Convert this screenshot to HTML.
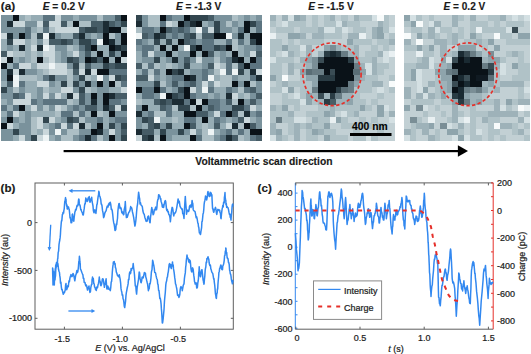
<!DOCTYPE html><html><head><meta charset="utf-8"><style>html,body{margin:0;padding:0;background:#fff;width:531px;height:354px;overflow:hidden}svg{display:block}text{font-family:"Liberation Sans",sans-serif;stroke:#222;stroke-width:0.22px}text[font-weight=bold]{stroke:#111;stroke-width:0.15px}</style></head><body>
<svg width="531" height="354" viewBox="0 0 531 354">
<rect width="531" height="354" fill="#fff"/>
<g shape-rendering="crispEdges">
<path fill="#7a929c" d="M1.1 15.0h6.2v6.2h-6.2zM7.1 15.0h6.2v6.2h-6.2zM60.9 15.0h6.2v6.2h-6.2zM66.8 15.0h6.2v6.2h-6.2zM78.8 15.0h6.2v6.2h-6.2zM84.8 15.0h6.2v6.2h-6.2zM90.7 15.0h6.2v6.2h-6.2zM102.7 15.0h6.2v6.2h-6.2zM108.7 15.0h6.2v6.2h-6.2zM1.1 21.0h6.2v6.2h-6.2zM25.0 21.0h6.2v6.2h-6.2zM31.0 21.0h6.2v6.2h-6.2zM1.1 27.0h6.2v6.2h-6.2zM7.1 27.0h6.2v6.2h-6.2zM13.1 27.0h6.2v6.2h-6.2zM19.0 27.0h6.2v6.2h-6.2zM13.1 33.0h6.2v6.2h-6.2zM54.9 33.0h6.2v6.2h-6.2zM84.8 33.0h6.2v6.2h-6.2zM96.7 33.0h6.2v6.2h-6.2zM114.6 33.0h6.2v6.2h-6.2zM37.0 39.0h6.2v6.2h-6.2zM72.8 39.0h6.2v6.2h-6.2zM114.6 39.0h6.2v6.2h-6.2zM7.1 45.0h6.2v6.2h-6.2zM54.9 45.0h6.2v6.2h-6.2zM60.9 45.0h6.2v6.2h-6.2zM60.9 50.9h6.2v6.2h-6.2zM78.8 50.9h6.2v6.2h-6.2zM114.6 50.9h6.2v6.2h-6.2zM19.0 56.9h6.2v6.2h-6.2zM60.9 56.9h6.2v6.2h-6.2zM78.8 56.9h6.2v6.2h-6.2zM66.8 62.9h6.2v6.2h-6.2zM90.7 62.9h6.2v6.2h-6.2zM96.7 62.9h6.2v6.2h-6.2zM1.1 68.9h6.2v6.2h-6.2zM25.0 68.9h6.2v6.2h-6.2zM31.0 68.9h6.2v6.2h-6.2zM1.1 74.9h6.2v6.2h-6.2zM54.9 74.9h6.2v6.2h-6.2zM60.9 74.9h6.2v6.2h-6.2zM72.8 74.9h6.2v6.2h-6.2zM102.7 74.9h6.2v6.2h-6.2zM48.9 80.9h6.2v6.2h-6.2zM78.8 80.9h6.2v6.2h-6.2zM90.7 80.9h6.2v6.2h-6.2zM102.7 80.9h6.2v6.2h-6.2zM7.1 86.9h6.2v6.2h-6.2zM19.0 86.9h6.2v6.2h-6.2zM37.0 86.9h6.2v6.2h-6.2zM72.8 86.9h6.2v6.2h-6.2zM96.7 86.9h6.2v6.2h-6.2zM102.7 86.9h6.2v6.2h-6.2zM1.1 92.9h6.2v6.2h-6.2zM7.1 92.9h6.2v6.2h-6.2zM37.0 92.9h6.2v6.2h-6.2zM48.9 92.9h6.2v6.2h-6.2zM84.8 92.9h6.2v6.2h-6.2zM96.7 92.9h6.2v6.2h-6.2zM7.1 98.9h6.2v6.2h-6.2zM37.0 98.9h6.2v6.2h-6.2zM84.8 98.9h6.2v6.2h-6.2zM96.7 98.9h6.2v6.2h-6.2zM120.6 98.9h6.2v6.2h-6.2zM37.0 104.9h6.2v6.2h-6.2zM48.9 104.9h6.2v6.2h-6.2zM66.8 104.9h6.2v6.2h-6.2zM78.8 104.9h6.2v6.2h-6.2zM96.7 104.9h6.2v6.2h-6.2zM25.0 110.8h6.2v6.2h-6.2zM114.6 110.8h6.2v6.2h-6.2zM120.6 110.8h6.2v6.2h-6.2zM1.1 116.8h6.2v6.2h-6.2zM13.1 116.8h6.2v6.2h-6.2zM25.0 116.8h6.2v6.2h-6.2zM60.9 116.8h6.2v6.2h-6.2zM84.8 116.8h6.2v6.2h-6.2zM90.7 116.8h6.2v6.2h-6.2zM108.7 116.8h6.2v6.2h-6.2zM19.0 122.8h6.2v6.2h-6.2zM25.0 122.8h6.2v6.2h-6.2zM48.9 122.8h6.2v6.2h-6.2zM90.7 122.8h6.2v6.2h-6.2zM114.6 122.8h6.2v6.2h-6.2zM1.1 128.8h6.2v6.2h-6.2zM7.1 128.8h6.2v6.2h-6.2zM19.0 128.8h6.2v6.2h-6.2zM25.0 128.8h6.2v6.2h-6.2zM48.9 128.8h6.2v6.2h-6.2zM60.9 128.8h6.2v6.2h-6.2zM78.8 128.8h6.2v6.2h-6.2zM84.8 128.8h6.2v6.2h-6.2zM102.7 128.8h6.2v6.2h-6.2zM114.6 128.8h6.2v6.2h-6.2zM1.1 134.8h6.2v6.2h-6.2zM7.1 134.8h6.2v6.2h-6.2zM25.0 134.8h6.2v6.2h-6.2zM54.9 134.8h6.2v6.2h-6.2zM72.8 134.8h6.2v6.2h-6.2zM102.7 134.8h6.2v6.2h-6.2zM114.6 134.8h6.2v6.2h-6.2z"/>
<path fill="#0a1218" d="M13.1 15.0h6.2v6.2h-6.2zM120.6 15.0h6.2v6.2h-6.2zM72.8 21.0h6.2v6.2h-6.2zM108.7 27.0h6.2v6.2h-6.2zM114.6 27.0h6.2v6.2h-6.2zM19.0 33.0h6.2v6.2h-6.2zM102.7 33.0h6.2v6.2h-6.2zM120.6 33.0h6.2v6.2h-6.2zM102.7 39.0h6.2v6.2h-6.2zM120.6 39.0h6.2v6.2h-6.2zM90.7 45.0h6.2v6.2h-6.2zM108.7 45.0h6.2v6.2h-6.2zM96.7 50.9h6.2v6.2h-6.2zM120.6 50.9h6.2v6.2h-6.2zM7.1 56.9h6.2v6.2h-6.2zM37.0 56.9h6.2v6.2h-6.2zM84.8 56.9h6.2v6.2h-6.2zM102.7 56.9h6.2v6.2h-6.2zM114.6 56.9h6.2v6.2h-6.2zM1.1 62.9h6.2v6.2h-6.2zM96.7 68.9h6.2v6.2h-6.2zM102.7 68.9h6.2v6.2h-6.2zM7.1 74.9h6.2v6.2h-6.2zM96.7 80.9h6.2v6.2h-6.2zM108.7 80.9h6.2v6.2h-6.2zM90.7 92.9h6.2v6.2h-6.2zM102.7 92.9h6.2v6.2h-6.2zM102.7 98.9h6.2v6.2h-6.2zM19.0 104.9h6.2v6.2h-6.2zM90.7 110.8h6.2v6.2h-6.2zM108.7 110.8h6.2v6.2h-6.2zM7.1 116.8h6.2v6.2h-6.2zM1.1 122.8h6.2v6.2h-6.2zM96.7 122.8h6.2v6.2h-6.2zM90.7 128.8h6.2v6.2h-6.2zM108.7 134.8h6.2v6.2h-6.2z"/>
<path fill="#96acb4" d="M19.0 15.0h6.2v6.2h-6.2zM31.0 15.0h6.2v6.2h-6.2zM37.0 15.0h6.2v6.2h-6.2zM72.8 15.0h6.2v6.2h-6.2zM31.0 27.0h6.2v6.2h-6.2zM60.9 33.0h6.2v6.2h-6.2zM66.8 33.0h6.2v6.2h-6.2zM90.7 33.0h6.2v6.2h-6.2zM1.1 39.0h6.2v6.2h-6.2zM25.0 39.0h6.2v6.2h-6.2zM1.1 45.0h6.2v6.2h-6.2zM13.1 45.0h6.2v6.2h-6.2zM25.0 45.0h6.2v6.2h-6.2zM72.8 45.0h6.2v6.2h-6.2zM96.7 45.0h6.2v6.2h-6.2zM102.7 45.0h6.2v6.2h-6.2zM25.0 50.9h6.2v6.2h-6.2zM37.0 50.9h6.2v6.2h-6.2zM54.9 50.9h6.2v6.2h-6.2zM66.8 50.9h6.2v6.2h-6.2zM90.7 50.9h6.2v6.2h-6.2zM102.7 50.9h6.2v6.2h-6.2zM13.1 56.9h6.2v6.2h-6.2zM25.0 56.9h6.2v6.2h-6.2zM54.9 56.9h6.2v6.2h-6.2zM108.7 56.9h6.2v6.2h-6.2zM7.1 62.9h6.2v6.2h-6.2zM31.0 62.9h6.2v6.2h-6.2zM37.0 68.9h6.2v6.2h-6.2zM37.0 74.9h6.2v6.2h-6.2zM90.7 74.9h6.2v6.2h-6.2zM1.1 80.9h6.2v6.2h-6.2zM25.0 80.9h6.2v6.2h-6.2zM31.0 80.9h6.2v6.2h-6.2zM54.9 80.9h6.2v6.2h-6.2zM25.0 86.9h6.2v6.2h-6.2zM31.0 86.9h6.2v6.2h-6.2zM48.9 86.9h6.2v6.2h-6.2zM54.9 86.9h6.2v6.2h-6.2zM90.7 86.9h6.2v6.2h-6.2zM108.7 86.9h6.2v6.2h-6.2zM114.6 86.9h6.2v6.2h-6.2zM31.0 92.9h6.2v6.2h-6.2zM60.9 92.9h6.2v6.2h-6.2zM1.1 98.9h6.2v6.2h-6.2zM72.8 98.9h6.2v6.2h-6.2zM7.1 104.9h6.2v6.2h-6.2zM25.0 104.9h6.2v6.2h-6.2zM1.1 110.8h6.2v6.2h-6.2zM19.0 110.8h6.2v6.2h-6.2zM31.0 110.8h6.2v6.2h-6.2zM37.0 110.8h6.2v6.2h-6.2zM42.9 110.8h6.2v6.2h-6.2zM48.9 110.8h6.2v6.2h-6.2zM84.8 110.8h6.2v6.2h-6.2zM102.7 110.8h6.2v6.2h-6.2zM19.0 116.8h6.2v6.2h-6.2zM54.9 116.8h6.2v6.2h-6.2zM102.7 116.8h6.2v6.2h-6.2zM13.1 122.8h6.2v6.2h-6.2zM42.9 122.8h6.2v6.2h-6.2zM102.7 122.8h6.2v6.2h-6.2zM37.0 128.8h6.2v6.2h-6.2zM13.1 134.8h6.2v6.2h-6.2zM48.9 134.8h6.2v6.2h-6.2z"/>
<path fill="#adbfc5" d="M25.0 15.0h6.2v6.2h-6.2zM96.7 15.0h6.2v6.2h-6.2zM66.8 21.0h6.2v6.2h-6.2zM78.8 21.0h6.2v6.2h-6.2zM84.8 21.0h6.2v6.2h-6.2zM37.0 27.0h6.2v6.2h-6.2zM48.9 27.0h6.2v6.2h-6.2zM120.6 27.0h6.2v6.2h-6.2zM31.0 33.0h6.2v6.2h-6.2zM108.7 33.0h6.2v6.2h-6.2zM31.0 39.0h6.2v6.2h-6.2zM66.8 45.0h6.2v6.2h-6.2zM13.1 50.9h6.2v6.2h-6.2zM19.0 50.9h6.2v6.2h-6.2zM31.0 50.9h6.2v6.2h-6.2zM31.0 56.9h6.2v6.2h-6.2zM42.9 56.9h6.2v6.2h-6.2zM78.8 62.9h6.2v6.2h-6.2zM42.9 68.9h6.2v6.2h-6.2zM66.8 68.9h6.2v6.2h-6.2zM19.0 74.9h6.2v6.2h-6.2zM25.0 74.9h6.2v6.2h-6.2zM31.0 74.9h6.2v6.2h-6.2zM66.8 74.9h6.2v6.2h-6.2zM84.8 74.9h6.2v6.2h-6.2zM66.8 80.9h6.2v6.2h-6.2zM114.6 80.9h6.2v6.2h-6.2zM13.1 86.9h6.2v6.2h-6.2zM42.9 86.9h6.2v6.2h-6.2zM84.8 86.9h6.2v6.2h-6.2zM66.8 98.9h6.2v6.2h-6.2zM42.9 104.9h6.2v6.2h-6.2zM60.9 104.9h6.2v6.2h-6.2zM54.9 110.8h6.2v6.2h-6.2zM72.8 110.8h6.2v6.2h-6.2zM96.7 110.8h6.2v6.2h-6.2zM31.0 116.8h6.2v6.2h-6.2zM78.8 116.8h6.2v6.2h-6.2zM31.0 122.8h6.2v6.2h-6.2zM84.8 122.8h6.2v6.2h-6.2zM31.0 128.8h6.2v6.2h-6.2zM66.8 128.8h6.2v6.2h-6.2zM72.8 128.8h6.2v6.2h-6.2zM60.9 134.8h6.2v6.2h-6.2zM66.8 134.8h6.2v6.2h-6.2zM96.7 134.8h6.2v6.2h-6.2z"/>
<path fill="#5c7480" d="M42.9 15.0h6.2v6.2h-6.2zM48.9 15.0h6.2v6.2h-6.2zM114.6 21.0h6.2v6.2h-6.2zM25.0 27.0h6.2v6.2h-6.2zM42.9 27.0h6.2v6.2h-6.2zM25.0 33.0h6.2v6.2h-6.2zM90.7 39.0h6.2v6.2h-6.2zM78.8 45.0h6.2v6.2h-6.2zM13.1 62.9h6.2v6.2h-6.2zM108.7 68.9h6.2v6.2h-6.2zM114.6 68.9h6.2v6.2h-6.2zM120.6 68.9h6.2v6.2h-6.2zM42.9 74.9h6.2v6.2h-6.2zM19.0 80.9h6.2v6.2h-6.2zM120.6 80.9h6.2v6.2h-6.2zM19.0 92.9h6.2v6.2h-6.2zM31.0 98.9h6.2v6.2h-6.2zM42.9 98.9h6.2v6.2h-6.2zM48.9 98.9h6.2v6.2h-6.2zM54.9 98.9h6.2v6.2h-6.2zM60.9 98.9h6.2v6.2h-6.2zM108.7 98.9h6.2v6.2h-6.2zM114.6 98.9h6.2v6.2h-6.2zM1.1 104.9h6.2v6.2h-6.2zM13.1 104.9h6.2v6.2h-6.2zM72.8 104.9h6.2v6.2h-6.2zM7.1 110.8h6.2v6.2h-6.2zM60.9 110.8h6.2v6.2h-6.2zM66.8 110.8h6.2v6.2h-6.2zM78.8 110.8h6.2v6.2h-6.2zM96.7 116.8h6.2v6.2h-6.2zM114.6 116.8h6.2v6.2h-6.2zM120.6 116.8h6.2v6.2h-6.2zM54.9 122.8h6.2v6.2h-6.2zM66.8 122.8h6.2v6.2h-6.2zM78.8 134.8h6.2v6.2h-6.2zM90.7 134.8h6.2v6.2h-6.2z"/>
<path fill="#cad7db" d="M54.9 15.0h6.2v6.2h-6.2zM13.1 21.0h6.2v6.2h-6.2zM19.0 21.0h6.2v6.2h-6.2zM37.0 21.0h6.2v6.2h-6.2zM48.9 21.0h6.2v6.2h-6.2zM54.9 21.0h6.2v6.2h-6.2zM54.9 27.0h6.2v6.2h-6.2zM60.9 27.0h6.2v6.2h-6.2zM66.8 27.0h6.2v6.2h-6.2zM72.8 27.0h6.2v6.2h-6.2zM1.1 33.0h6.2v6.2h-6.2zM13.1 39.0h6.2v6.2h-6.2zM19.0 39.0h6.2v6.2h-6.2zM42.9 39.0h6.2v6.2h-6.2zM31.0 45.0h6.2v6.2h-6.2zM48.9 45.0h6.2v6.2h-6.2zM7.1 50.9h6.2v6.2h-6.2zM42.9 50.9h6.2v6.2h-6.2zM48.9 50.9h6.2v6.2h-6.2zM72.8 50.9h6.2v6.2h-6.2zM1.1 56.9h6.2v6.2h-6.2zM48.9 56.9h6.2v6.2h-6.2zM120.6 56.9h6.2v6.2h-6.2zM19.0 62.9h6.2v6.2h-6.2zM25.0 62.9h6.2v6.2h-6.2zM37.0 62.9h6.2v6.2h-6.2zM42.9 62.9h6.2v6.2h-6.2zM54.9 62.9h6.2v6.2h-6.2zM60.9 62.9h6.2v6.2h-6.2zM13.1 68.9h6.2v6.2h-6.2zM48.9 68.9h6.2v6.2h-6.2zM54.9 68.9h6.2v6.2h-6.2zM60.9 68.9h6.2v6.2h-6.2zM78.8 68.9h6.2v6.2h-6.2zM90.7 68.9h6.2v6.2h-6.2zM108.7 74.9h6.2v6.2h-6.2zM37.0 80.9h6.2v6.2h-6.2zM42.9 80.9h6.2v6.2h-6.2zM60.9 86.9h6.2v6.2h-6.2zM66.8 86.9h6.2v6.2h-6.2zM120.6 86.9h6.2v6.2h-6.2zM25.0 92.9h6.2v6.2h-6.2zM42.9 92.9h6.2v6.2h-6.2zM54.9 92.9h6.2v6.2h-6.2zM72.8 92.9h6.2v6.2h-6.2zM13.1 98.9h6.2v6.2h-6.2zM19.0 98.9h6.2v6.2h-6.2zM25.0 98.9h6.2v6.2h-6.2zM31.0 104.9h6.2v6.2h-6.2zM54.9 104.9h6.2v6.2h-6.2zM114.6 104.9h6.2v6.2h-6.2zM13.1 110.8h6.2v6.2h-6.2zM37.0 116.8h6.2v6.2h-6.2zM48.9 116.8h6.2v6.2h-6.2zM7.1 122.8h6.2v6.2h-6.2zM37.0 122.8h6.2v6.2h-6.2zM60.9 122.8h6.2v6.2h-6.2zM72.8 122.8h6.2v6.2h-6.2zM42.9 128.8h6.2v6.2h-6.2zM108.7 128.8h6.2v6.2h-6.2zM19.0 134.8h6.2v6.2h-6.2zM37.0 134.8h6.2v6.2h-6.2z"/>
<path fill="#465c66" d="M114.6 15.0h6.2v6.2h-6.2zM42.9 21.0h6.2v6.2h-6.2zM60.9 21.0h6.2v6.2h-6.2zM90.7 21.0h6.2v6.2h-6.2zM96.7 21.0h6.2v6.2h-6.2zM108.7 21.0h6.2v6.2h-6.2zM78.8 27.0h6.2v6.2h-6.2zM96.7 27.0h6.2v6.2h-6.2zM72.8 33.0h6.2v6.2h-6.2zM48.9 39.0h6.2v6.2h-6.2zM54.9 39.0h6.2v6.2h-6.2zM66.8 39.0h6.2v6.2h-6.2zM1.1 50.9h6.2v6.2h-6.2zM84.8 50.9h6.2v6.2h-6.2zM72.8 56.9h6.2v6.2h-6.2zM96.7 56.9h6.2v6.2h-6.2zM84.8 62.9h6.2v6.2h-6.2zM108.7 62.9h6.2v6.2h-6.2zM72.8 68.9h6.2v6.2h-6.2zM120.6 74.9h6.2v6.2h-6.2zM7.1 80.9h6.2v6.2h-6.2zM13.1 92.9h6.2v6.2h-6.2zM78.8 92.9h6.2v6.2h-6.2zM114.6 92.9h6.2v6.2h-6.2zM120.6 92.9h6.2v6.2h-6.2zM78.8 98.9h6.2v6.2h-6.2zM84.8 104.9h6.2v6.2h-6.2zM90.7 104.9h6.2v6.2h-6.2zM108.7 104.9h6.2v6.2h-6.2zM72.8 116.8h6.2v6.2h-6.2zM120.6 128.8h6.2v6.2h-6.2z"/>
<path fill="#1c2c34" d="M7.1 21.0h6.2v6.2h-6.2zM102.7 21.0h6.2v6.2h-6.2zM102.7 27.0h6.2v6.2h-6.2zM7.1 33.0h6.2v6.2h-6.2zM48.9 33.0h6.2v6.2h-6.2zM78.8 33.0h6.2v6.2h-6.2zM108.7 39.0h6.2v6.2h-6.2zM19.0 45.0h6.2v6.2h-6.2zM37.0 45.0h6.2v6.2h-6.2zM114.6 45.0h6.2v6.2h-6.2zM90.7 56.9h6.2v6.2h-6.2zM7.1 68.9h6.2v6.2h-6.2zM19.0 68.9h6.2v6.2h-6.2zM84.8 68.9h6.2v6.2h-6.2zM84.8 80.9h6.2v6.2h-6.2zM66.8 92.9h6.2v6.2h-6.2zM108.7 92.9h6.2v6.2h-6.2zM90.7 98.9h6.2v6.2h-6.2zM102.7 104.9h6.2v6.2h-6.2zM78.8 122.8h6.2v6.2h-6.2zM96.7 128.8h6.2v6.2h-6.2zM84.8 134.8h6.2v6.2h-6.2z"/>
<path fill="#32464f" d="M120.6 21.0h6.2v6.2h-6.2zM84.8 27.0h6.2v6.2h-6.2zM90.7 27.0h6.2v6.2h-6.2zM37.0 33.0h6.2v6.2h-6.2zM7.1 39.0h6.2v6.2h-6.2zM60.9 39.0h6.2v6.2h-6.2zM78.8 39.0h6.2v6.2h-6.2zM84.8 39.0h6.2v6.2h-6.2zM84.8 45.0h6.2v6.2h-6.2zM120.6 45.0h6.2v6.2h-6.2zM108.7 50.9h6.2v6.2h-6.2zM66.8 56.9h6.2v6.2h-6.2zM72.8 62.9h6.2v6.2h-6.2zM102.7 62.9h6.2v6.2h-6.2zM114.6 62.9h6.2v6.2h-6.2zM120.6 62.9h6.2v6.2h-6.2zM48.9 74.9h6.2v6.2h-6.2zM78.8 74.9h6.2v6.2h-6.2zM114.6 74.9h6.2v6.2h-6.2zM60.9 80.9h6.2v6.2h-6.2zM72.8 80.9h6.2v6.2h-6.2zM1.1 86.9h6.2v6.2h-6.2zM78.8 86.9h6.2v6.2h-6.2zM120.6 104.9h6.2v6.2h-6.2zM42.9 116.8h6.2v6.2h-6.2zM66.8 116.8h6.2v6.2h-6.2zM108.7 122.8h6.2v6.2h-6.2zM120.6 122.8h6.2v6.2h-6.2zM13.1 128.8h6.2v6.2h-6.2zM31.0 134.8h6.2v6.2h-6.2zM120.6 134.8h6.2v6.2h-6.2z"/>
<path fill="#eef4f5" d="M42.9 33.0h6.2v6.2h-6.2zM96.7 39.0h6.2v6.2h-6.2zM42.9 45.0h6.2v6.2h-6.2zM48.9 62.9h6.2v6.2h-6.2zM13.1 74.9h6.2v6.2h-6.2zM96.7 74.9h6.2v6.2h-6.2zM13.1 80.9h6.2v6.2h-6.2zM54.9 128.8h6.2v6.2h-6.2zM42.9 134.8h6.2v6.2h-6.2z"/>
</g>
<g shape-rendering="crispEdges">
<path fill="#32464f" d="M136.0 15.0h6.2v6.2h-6.2zM189.8 15.0h6.2v6.2h-6.2zM195.8 15.0h6.2v6.2h-6.2zM201.7 15.0h6.2v6.2h-6.2zM213.7 21.0h6.2v6.2h-6.2zM249.5 21.0h6.2v6.2h-6.2zM213.7 27.0h6.2v6.2h-6.2zM159.9 33.0h6.2v6.2h-6.2zM189.8 33.0h6.2v6.2h-6.2zM153.9 39.0h6.2v6.2h-6.2zM165.9 39.0h6.2v6.2h-6.2zM249.5 39.0h6.2v6.2h-6.2zM189.8 45.0h6.2v6.2h-6.2zM213.7 45.0h6.2v6.2h-6.2zM153.9 56.9h6.2v6.2h-6.2zM183.8 62.9h6.2v6.2h-6.2zM171.9 68.9h6.2v6.2h-6.2zM237.6 68.9h6.2v6.2h-6.2zM153.9 80.9h6.2v6.2h-6.2zM177.8 86.9h6.2v6.2h-6.2zM171.9 92.9h6.2v6.2h-6.2zM159.9 98.9h6.2v6.2h-6.2zM177.8 104.9h6.2v6.2h-6.2zM183.8 104.9h6.2v6.2h-6.2zM231.6 104.9h6.2v6.2h-6.2zM237.6 104.9h6.2v6.2h-6.2zM142.0 116.8h6.2v6.2h-6.2zM153.9 122.8h6.2v6.2h-6.2zM165.9 122.8h6.2v6.2h-6.2zM159.9 128.8h6.2v6.2h-6.2zM177.8 128.8h6.2v6.2h-6.2zM142.0 134.8h6.2v6.2h-6.2z"/>
<path fill="#7a929c" d="M142.0 15.0h6.2v6.2h-6.2zM171.9 15.0h6.2v6.2h-6.2zM177.8 15.0h6.2v6.2h-6.2zM213.7 15.0h6.2v6.2h-6.2zM219.7 15.0h6.2v6.2h-6.2zM225.6 15.0h6.2v6.2h-6.2zM243.6 15.0h6.2v6.2h-6.2zM255.5 15.0h6.2v6.2h-6.2zM142.0 21.0h6.2v6.2h-6.2zM207.7 21.0h6.2v6.2h-6.2zM219.7 21.0h6.2v6.2h-6.2zM231.6 21.0h6.2v6.2h-6.2zM153.9 27.0h6.2v6.2h-6.2zM219.7 27.0h6.2v6.2h-6.2zM225.6 27.0h6.2v6.2h-6.2zM165.9 33.0h6.2v6.2h-6.2zM177.8 33.0h6.2v6.2h-6.2zM231.6 33.0h6.2v6.2h-6.2zM142.0 39.0h6.2v6.2h-6.2zM195.8 39.0h6.2v6.2h-6.2zM136.0 45.0h6.2v6.2h-6.2zM243.6 45.0h6.2v6.2h-6.2zM249.5 45.0h6.2v6.2h-6.2zM153.9 50.9h6.2v6.2h-6.2zM159.9 50.9h6.2v6.2h-6.2zM177.8 50.9h6.2v6.2h-6.2zM183.8 50.9h6.2v6.2h-6.2zM219.7 50.9h6.2v6.2h-6.2zM243.6 50.9h6.2v6.2h-6.2zM142.0 56.9h6.2v6.2h-6.2zM148.0 56.9h6.2v6.2h-6.2zM165.9 56.9h6.2v6.2h-6.2zM177.8 56.9h6.2v6.2h-6.2zM189.8 56.9h6.2v6.2h-6.2zM201.7 56.9h6.2v6.2h-6.2zM207.7 56.9h6.2v6.2h-6.2zM219.7 56.9h6.2v6.2h-6.2zM177.8 62.9h6.2v6.2h-6.2zM201.7 62.9h6.2v6.2h-6.2zM189.8 68.9h6.2v6.2h-6.2zM195.8 68.9h6.2v6.2h-6.2zM207.7 68.9h6.2v6.2h-6.2zM153.9 74.9h6.2v6.2h-6.2zM165.9 74.9h6.2v6.2h-6.2zM195.8 74.9h6.2v6.2h-6.2zM231.6 74.9h6.2v6.2h-6.2zM136.0 80.9h6.2v6.2h-6.2zM142.0 80.9h6.2v6.2h-6.2zM148.0 80.9h6.2v6.2h-6.2zM165.9 80.9h6.2v6.2h-6.2zM177.8 80.9h6.2v6.2h-6.2zM195.8 80.9h6.2v6.2h-6.2zM207.7 80.9h6.2v6.2h-6.2zM237.6 80.9h6.2v6.2h-6.2zM255.5 80.9h6.2v6.2h-6.2zM171.9 86.9h6.2v6.2h-6.2zM195.8 86.9h6.2v6.2h-6.2zM231.6 86.9h6.2v6.2h-6.2zM255.5 86.9h6.2v6.2h-6.2zM153.9 92.9h6.2v6.2h-6.2zM195.8 92.9h6.2v6.2h-6.2zM201.7 92.9h6.2v6.2h-6.2zM213.7 92.9h6.2v6.2h-6.2zM249.5 92.9h6.2v6.2h-6.2zM219.7 98.9h6.2v6.2h-6.2zM243.6 98.9h6.2v6.2h-6.2zM255.5 98.9h6.2v6.2h-6.2zM136.0 104.9h6.2v6.2h-6.2zM201.7 104.9h6.2v6.2h-6.2zM219.7 104.9h6.2v6.2h-6.2zM225.6 104.9h6.2v6.2h-6.2zM142.0 110.8h6.2v6.2h-6.2zM207.7 110.8h6.2v6.2h-6.2zM249.5 110.8h6.2v6.2h-6.2zM136.0 116.8h6.2v6.2h-6.2zM219.7 116.8h6.2v6.2h-6.2zM231.6 116.8h6.2v6.2h-6.2zM255.5 116.8h6.2v6.2h-6.2zM136.0 122.8h6.2v6.2h-6.2zM159.9 122.8h6.2v6.2h-6.2zM255.5 122.8h6.2v6.2h-6.2zM165.9 128.8h6.2v6.2h-6.2zM171.9 128.8h6.2v6.2h-6.2zM183.8 128.8h6.2v6.2h-6.2zM195.8 128.8h6.2v6.2h-6.2zM219.7 128.8h6.2v6.2h-6.2zM165.9 134.8h6.2v6.2h-6.2zM213.7 134.8h6.2v6.2h-6.2z"/>
<path fill="#adbfc5" d="M148.0 15.0h6.2v6.2h-6.2zM153.9 15.0h6.2v6.2h-6.2zM231.6 15.0h6.2v6.2h-6.2zM148.0 21.0h6.2v6.2h-6.2zM153.9 21.0h6.2v6.2h-6.2zM171.9 21.0h6.2v6.2h-6.2zM225.6 21.0h6.2v6.2h-6.2zM136.0 27.0h6.2v6.2h-6.2zM195.8 33.0h6.2v6.2h-6.2zM231.6 39.0h6.2v6.2h-6.2zM231.6 45.0h6.2v6.2h-6.2zM213.7 56.9h6.2v6.2h-6.2zM142.0 62.9h6.2v6.2h-6.2zM153.9 62.9h6.2v6.2h-6.2zM165.9 62.9h6.2v6.2h-6.2zM219.7 62.9h6.2v6.2h-6.2zM231.6 62.9h6.2v6.2h-6.2zM148.0 68.9h6.2v6.2h-6.2zM213.7 68.9h6.2v6.2h-6.2zM219.7 74.9h6.2v6.2h-6.2zM225.6 74.9h6.2v6.2h-6.2zM159.9 80.9h6.2v6.2h-6.2zM219.7 80.9h6.2v6.2h-6.2zM225.6 80.9h6.2v6.2h-6.2zM249.5 80.9h6.2v6.2h-6.2zM237.6 86.9h6.2v6.2h-6.2zM243.6 92.9h6.2v6.2h-6.2zM136.0 98.9h6.2v6.2h-6.2zM231.6 98.9h6.2v6.2h-6.2zM171.9 104.9h6.2v6.2h-6.2zM189.8 104.9h6.2v6.2h-6.2zM153.9 110.8h6.2v6.2h-6.2zM159.9 110.8h6.2v6.2h-6.2zM237.6 110.8h6.2v6.2h-6.2zM171.9 116.8h6.2v6.2h-6.2zM201.7 122.8h6.2v6.2h-6.2zM237.6 122.8h6.2v6.2h-6.2zM201.7 128.8h6.2v6.2h-6.2zM153.9 134.8h6.2v6.2h-6.2zM201.7 134.8h6.2v6.2h-6.2zM207.7 134.8h6.2v6.2h-6.2zM237.6 134.8h6.2v6.2h-6.2z"/>
<path fill="#0a1218" d="M159.9 15.0h6.2v6.2h-6.2zM183.8 15.0h6.2v6.2h-6.2zM177.8 21.0h6.2v6.2h-6.2zM195.8 21.0h6.2v6.2h-6.2zM243.6 21.0h6.2v6.2h-6.2zM159.9 27.0h6.2v6.2h-6.2zM243.6 27.0h6.2v6.2h-6.2zM213.7 33.0h6.2v6.2h-6.2zM219.7 33.0h6.2v6.2h-6.2zM249.5 33.0h6.2v6.2h-6.2zM255.5 33.0h6.2v6.2h-6.2zM177.8 39.0h6.2v6.2h-6.2zM255.5 39.0h6.2v6.2h-6.2zM159.9 45.0h6.2v6.2h-6.2zM171.9 45.0h6.2v6.2h-6.2zM195.8 45.0h6.2v6.2h-6.2zM225.6 45.0h6.2v6.2h-6.2zM165.9 50.9h6.2v6.2h-6.2zM189.8 50.9h6.2v6.2h-6.2zM201.7 50.9h6.2v6.2h-6.2zM231.6 50.9h6.2v6.2h-6.2zM237.6 56.9h6.2v6.2h-6.2zM249.5 56.9h6.2v6.2h-6.2zM243.6 62.9h6.2v6.2h-6.2zM165.9 68.9h6.2v6.2h-6.2zM183.8 74.9h6.2v6.2h-6.2zM231.6 80.9h6.2v6.2h-6.2zM243.6 80.9h6.2v6.2h-6.2zM136.0 86.9h6.2v6.2h-6.2zM153.9 86.9h6.2v6.2h-6.2zM183.8 86.9h6.2v6.2h-6.2zM165.9 92.9h6.2v6.2h-6.2zM183.8 92.9h6.2v6.2h-6.2zM189.8 98.9h6.2v6.2h-6.2zM201.7 98.9h6.2v6.2h-6.2zM237.6 98.9h6.2v6.2h-6.2zM142.0 104.9h6.2v6.2h-6.2zM195.8 104.9h6.2v6.2h-6.2zM183.8 110.8h6.2v6.2h-6.2zM189.8 110.8h6.2v6.2h-6.2zM225.6 110.8h6.2v6.2h-6.2zM201.7 116.8h6.2v6.2h-6.2zM183.8 122.8h6.2v6.2h-6.2zM243.6 122.8h6.2v6.2h-6.2zM249.5 128.8h6.2v6.2h-6.2zM255.5 128.8h6.2v6.2h-6.2zM159.9 134.8h6.2v6.2h-6.2zM189.8 134.8h6.2v6.2h-6.2z"/>
<path fill="#5c7480" d="M165.9 15.0h6.2v6.2h-6.2zM159.9 21.0h6.2v6.2h-6.2zM255.5 21.0h6.2v6.2h-6.2zM142.0 27.0h6.2v6.2h-6.2zM148.0 27.0h6.2v6.2h-6.2zM171.9 27.0h6.2v6.2h-6.2zM183.8 27.0h6.2v6.2h-6.2zM201.7 27.0h6.2v6.2h-6.2zM237.6 27.0h6.2v6.2h-6.2zM255.5 27.0h6.2v6.2h-6.2zM148.0 33.0h6.2v6.2h-6.2zM171.9 33.0h6.2v6.2h-6.2zM136.0 39.0h6.2v6.2h-6.2zM189.8 39.0h6.2v6.2h-6.2zM201.7 39.0h6.2v6.2h-6.2zM207.7 39.0h6.2v6.2h-6.2zM225.6 39.0h6.2v6.2h-6.2zM237.6 39.0h6.2v6.2h-6.2zM142.0 45.0h6.2v6.2h-6.2zM148.0 45.0h6.2v6.2h-6.2zM201.7 45.0h6.2v6.2h-6.2zM207.7 45.0h6.2v6.2h-6.2zM255.5 45.0h6.2v6.2h-6.2zM142.0 50.9h6.2v6.2h-6.2zM225.6 56.9h6.2v6.2h-6.2zM255.5 56.9h6.2v6.2h-6.2zM148.0 62.9h6.2v6.2h-6.2zM225.6 62.9h6.2v6.2h-6.2zM249.5 62.9h6.2v6.2h-6.2zM255.5 62.9h6.2v6.2h-6.2zM142.0 68.9h6.2v6.2h-6.2zM153.9 68.9h6.2v6.2h-6.2zM201.7 68.9h6.2v6.2h-6.2zM225.6 68.9h6.2v6.2h-6.2zM171.9 74.9h6.2v6.2h-6.2zM177.8 74.9h6.2v6.2h-6.2zM201.7 74.9h6.2v6.2h-6.2zM249.5 74.9h6.2v6.2h-6.2zM183.8 80.9h6.2v6.2h-6.2zM142.0 86.9h6.2v6.2h-6.2zM148.0 86.9h6.2v6.2h-6.2zM159.9 86.9h6.2v6.2h-6.2zM207.7 86.9h6.2v6.2h-6.2zM225.6 86.9h6.2v6.2h-6.2zM243.6 86.9h6.2v6.2h-6.2zM142.0 92.9h6.2v6.2h-6.2zM148.0 92.9h6.2v6.2h-6.2zM189.8 92.9h6.2v6.2h-6.2zM183.8 98.9h6.2v6.2h-6.2zM207.7 98.9h6.2v6.2h-6.2zM213.7 98.9h6.2v6.2h-6.2zM165.9 104.9h6.2v6.2h-6.2zM213.7 104.9h6.2v6.2h-6.2zM243.6 104.9h6.2v6.2h-6.2zM148.0 110.8h6.2v6.2h-6.2zM165.9 110.8h6.2v6.2h-6.2zM219.7 110.8h6.2v6.2h-6.2zM255.5 110.8h6.2v6.2h-6.2zM183.8 116.8h6.2v6.2h-6.2zM189.8 116.8h6.2v6.2h-6.2zM213.7 116.8h6.2v6.2h-6.2zM225.6 128.8h6.2v6.2h-6.2zM237.6 128.8h6.2v6.2h-6.2zM195.8 134.8h6.2v6.2h-6.2zM219.7 134.8h6.2v6.2h-6.2zM249.5 134.8h6.2v6.2h-6.2z"/>
<path fill="#465c66" d="M207.7 15.0h6.2v6.2h-6.2zM183.8 21.0h6.2v6.2h-6.2zM165.9 27.0h6.2v6.2h-6.2zM177.8 27.0h6.2v6.2h-6.2zM142.0 33.0h6.2v6.2h-6.2zM183.8 33.0h6.2v6.2h-6.2zM201.7 33.0h6.2v6.2h-6.2zM207.7 33.0h6.2v6.2h-6.2zM183.8 39.0h6.2v6.2h-6.2zM219.7 45.0h6.2v6.2h-6.2zM207.7 50.9h6.2v6.2h-6.2zM255.5 50.9h6.2v6.2h-6.2zM183.8 56.9h6.2v6.2h-6.2zM136.0 62.9h6.2v6.2h-6.2zM207.7 62.9h6.2v6.2h-6.2zM237.6 62.9h6.2v6.2h-6.2zM136.0 74.9h6.2v6.2h-6.2zM142.0 74.9h6.2v6.2h-6.2zM171.9 80.9h6.2v6.2h-6.2zM189.8 80.9h6.2v6.2h-6.2zM249.5 86.9h6.2v6.2h-6.2zM177.8 92.9h6.2v6.2h-6.2zM255.5 92.9h6.2v6.2h-6.2zM153.9 98.9h6.2v6.2h-6.2zM165.9 98.9h6.2v6.2h-6.2zM225.6 98.9h6.2v6.2h-6.2zM249.5 98.9h6.2v6.2h-6.2zM159.9 104.9h6.2v6.2h-6.2zM207.7 104.9h6.2v6.2h-6.2zM195.8 110.8h6.2v6.2h-6.2zM201.7 110.8h6.2v6.2h-6.2zM231.6 110.8h6.2v6.2h-6.2zM148.0 116.8h6.2v6.2h-6.2zM237.6 116.8h6.2v6.2h-6.2zM148.0 122.8h6.2v6.2h-6.2zM189.8 122.8h6.2v6.2h-6.2zM213.7 122.8h6.2v6.2h-6.2zM249.5 122.8h6.2v6.2h-6.2zM142.0 128.8h6.2v6.2h-6.2zM148.0 128.8h6.2v6.2h-6.2zM231.6 134.8h6.2v6.2h-6.2zM255.5 134.8h6.2v6.2h-6.2z"/>
<path fill="#96acb4" d="M237.6 15.0h6.2v6.2h-6.2zM249.5 15.0h6.2v6.2h-6.2zM201.7 21.0h6.2v6.2h-6.2zM237.6 21.0h6.2v6.2h-6.2zM189.8 27.0h6.2v6.2h-6.2zM231.6 27.0h6.2v6.2h-6.2zM249.5 27.0h6.2v6.2h-6.2zM243.6 33.0h6.2v6.2h-6.2zM148.0 39.0h6.2v6.2h-6.2zM159.9 39.0h6.2v6.2h-6.2zM171.9 39.0h6.2v6.2h-6.2zM213.7 39.0h6.2v6.2h-6.2zM219.7 39.0h6.2v6.2h-6.2zM243.6 39.0h6.2v6.2h-6.2zM153.9 45.0h6.2v6.2h-6.2zM165.9 45.0h6.2v6.2h-6.2zM177.8 45.0h6.2v6.2h-6.2zM237.6 45.0h6.2v6.2h-6.2zM136.0 50.9h6.2v6.2h-6.2zM171.9 50.9h6.2v6.2h-6.2zM195.8 50.9h6.2v6.2h-6.2zM213.7 50.9h6.2v6.2h-6.2zM225.6 50.9h6.2v6.2h-6.2zM237.6 50.9h6.2v6.2h-6.2zM136.0 56.9h6.2v6.2h-6.2zM159.9 56.9h6.2v6.2h-6.2zM243.6 56.9h6.2v6.2h-6.2zM159.9 62.9h6.2v6.2h-6.2zM171.9 62.9h6.2v6.2h-6.2zM189.8 62.9h6.2v6.2h-6.2zM195.8 62.9h6.2v6.2h-6.2zM136.0 68.9h6.2v6.2h-6.2zM159.9 68.9h6.2v6.2h-6.2zM183.8 68.9h6.2v6.2h-6.2zM243.6 68.9h6.2v6.2h-6.2zM159.9 74.9h6.2v6.2h-6.2zM213.7 74.9h6.2v6.2h-6.2zM237.6 74.9h6.2v6.2h-6.2zM243.6 74.9h6.2v6.2h-6.2zM165.9 86.9h6.2v6.2h-6.2zM213.7 86.9h6.2v6.2h-6.2zM219.7 86.9h6.2v6.2h-6.2zM136.0 92.9h6.2v6.2h-6.2zM207.7 92.9h6.2v6.2h-6.2zM219.7 92.9h6.2v6.2h-6.2zM237.6 92.9h6.2v6.2h-6.2zM142.0 98.9h6.2v6.2h-6.2zM148.0 98.9h6.2v6.2h-6.2zM148.0 104.9h6.2v6.2h-6.2zM153.9 104.9h6.2v6.2h-6.2zM255.5 104.9h6.2v6.2h-6.2zM171.9 110.8h6.2v6.2h-6.2zM177.8 110.8h6.2v6.2h-6.2zM159.9 116.8h6.2v6.2h-6.2zM165.9 116.8h6.2v6.2h-6.2zM177.8 116.8h6.2v6.2h-6.2zM195.8 116.8h6.2v6.2h-6.2zM207.7 116.8h6.2v6.2h-6.2zM225.6 116.8h6.2v6.2h-6.2zM249.5 116.8h6.2v6.2h-6.2zM142.0 122.8h6.2v6.2h-6.2zM171.9 122.8h6.2v6.2h-6.2zM177.8 122.8h6.2v6.2h-6.2zM195.8 122.8h6.2v6.2h-6.2zM207.7 122.8h6.2v6.2h-6.2zM219.7 122.8h6.2v6.2h-6.2zM153.9 128.8h6.2v6.2h-6.2zM213.7 128.8h6.2v6.2h-6.2zM231.6 128.8h6.2v6.2h-6.2zM243.6 128.8h6.2v6.2h-6.2zM171.9 134.8h6.2v6.2h-6.2zM177.8 134.8h6.2v6.2h-6.2zM183.8 134.8h6.2v6.2h-6.2zM243.6 134.8h6.2v6.2h-6.2z"/>
<path fill="#1c2c34" d="M136.0 21.0h6.2v6.2h-6.2zM189.8 21.0h6.2v6.2h-6.2zM153.9 33.0h6.2v6.2h-6.2zM237.6 33.0h6.2v6.2h-6.2zM171.9 56.9h6.2v6.2h-6.2zM231.6 56.9h6.2v6.2h-6.2zM177.8 68.9h6.2v6.2h-6.2zM249.5 68.9h6.2v6.2h-6.2zM189.8 74.9h6.2v6.2h-6.2zM255.5 74.9h6.2v6.2h-6.2zM225.6 92.9h6.2v6.2h-6.2zM171.9 98.9h6.2v6.2h-6.2zM177.8 98.9h6.2v6.2h-6.2zM136.0 110.8h6.2v6.2h-6.2zM243.6 110.8h6.2v6.2h-6.2zM231.6 122.8h6.2v6.2h-6.2zM136.0 128.8h6.2v6.2h-6.2zM148.0 134.8h6.2v6.2h-6.2zM225.6 134.8h6.2v6.2h-6.2z"/>
<path fill="#cad7db" d="M165.9 21.0h6.2v6.2h-6.2zM207.7 27.0h6.2v6.2h-6.2zM148.0 50.9h6.2v6.2h-6.2zM249.5 50.9h6.2v6.2h-6.2zM195.8 56.9h6.2v6.2h-6.2zM213.7 62.9h6.2v6.2h-6.2zM255.5 68.9h6.2v6.2h-6.2zM148.0 74.9h6.2v6.2h-6.2zM201.7 80.9h6.2v6.2h-6.2zM213.7 80.9h6.2v6.2h-6.2zM189.8 86.9h6.2v6.2h-6.2zM231.6 92.9h6.2v6.2h-6.2zM195.8 98.9h6.2v6.2h-6.2zM249.5 104.9h6.2v6.2h-6.2zM213.7 110.8h6.2v6.2h-6.2zM243.6 116.8h6.2v6.2h-6.2zM225.6 122.8h6.2v6.2h-6.2zM189.8 128.8h6.2v6.2h-6.2zM136.0 134.8h6.2v6.2h-6.2z"/>
<path fill="#eef4f5" d="M195.8 27.0h6.2v6.2h-6.2zM136.0 33.0h6.2v6.2h-6.2zM225.6 33.0h6.2v6.2h-6.2zM183.8 45.0h6.2v6.2h-6.2zM219.7 68.9h6.2v6.2h-6.2zM231.6 68.9h6.2v6.2h-6.2zM207.7 74.9h6.2v6.2h-6.2zM201.7 86.9h6.2v6.2h-6.2zM159.9 92.9h6.2v6.2h-6.2zM153.9 116.8h6.2v6.2h-6.2zM207.7 128.8h6.2v6.2h-6.2z"/>
</g>
<g shape-rendering="crispEdges">
<path fill="#9eb2b9" d="M269.7 15.0h6.2v6.2h-6.2zM281.7 15.0h6.2v6.2h-6.2zM299.6 15.0h6.2v6.2h-6.2zM329.5 15.0h6.2v6.2h-6.2zM353.4 15.0h6.2v6.2h-6.2zM341.4 21.0h6.2v6.2h-6.2zM377.3 21.0h6.2v6.2h-6.2zM317.5 27.0h6.2v6.2h-6.2zM371.3 27.0h6.2v6.2h-6.2zM299.6 33.0h6.2v6.2h-6.2zM311.5 33.0h6.2v6.2h-6.2zM317.5 33.0h6.2v6.2h-6.2zM347.4 33.0h6.2v6.2h-6.2zM353.4 33.0h6.2v6.2h-6.2zM371.3 33.0h6.2v6.2h-6.2zM389.2 39.0h6.2v6.2h-6.2zM305.6 45.0h6.2v6.2h-6.2zM335.4 45.0h6.2v6.2h-6.2zM353.4 45.0h6.2v6.2h-6.2zM287.6 50.9h6.2v6.2h-6.2zM305.6 50.9h6.2v6.2h-6.2zM317.5 50.9h6.2v6.2h-6.2zM347.4 50.9h6.2v6.2h-6.2zM353.4 50.9h6.2v6.2h-6.2zM377.3 50.9h6.2v6.2h-6.2zM299.6 56.9h6.2v6.2h-6.2zM371.3 56.9h6.2v6.2h-6.2zM287.6 62.9h6.2v6.2h-6.2zM305.6 62.9h6.2v6.2h-6.2zM359.3 62.9h6.2v6.2h-6.2zM371.3 62.9h6.2v6.2h-6.2zM287.6 68.9h6.2v6.2h-6.2zM371.3 68.9h6.2v6.2h-6.2zM359.3 74.9h6.2v6.2h-6.2zM281.7 80.9h6.2v6.2h-6.2zM371.3 80.9h6.2v6.2h-6.2zM377.3 80.9h6.2v6.2h-6.2zM311.5 92.9h6.2v6.2h-6.2zM323.5 92.9h6.2v6.2h-6.2zM341.4 92.9h6.2v6.2h-6.2zM347.4 92.9h6.2v6.2h-6.2zM317.5 98.9h6.2v6.2h-6.2zM335.4 98.9h6.2v6.2h-6.2zM341.4 98.9h6.2v6.2h-6.2zM269.7 104.9h6.2v6.2h-6.2zM329.5 104.9h6.2v6.2h-6.2zM287.6 110.8h6.2v6.2h-6.2zM329.5 110.8h6.2v6.2h-6.2zM353.4 110.8h6.2v6.2h-6.2zM389.2 110.8h6.2v6.2h-6.2zM311.5 116.8h6.2v6.2h-6.2zM269.7 122.8h6.2v6.2h-6.2zM293.6 122.8h6.2v6.2h-6.2zM305.6 122.8h6.2v6.2h-6.2zM269.7 128.8h6.2v6.2h-6.2zM293.6 128.8h6.2v6.2h-6.2zM317.5 128.8h6.2v6.2h-6.2zM275.7 134.8h6.2v6.2h-6.2zM293.6 134.8h6.2v6.2h-6.2z"/>
<path fill="#c2d0d4" d="M275.7 15.0h6.2v6.2h-6.2zM305.6 15.0h6.2v6.2h-6.2zM317.5 15.0h6.2v6.2h-6.2zM335.4 15.0h6.2v6.2h-6.2zM347.4 15.0h6.2v6.2h-6.2zM389.2 15.0h6.2v6.2h-6.2zM275.7 21.0h6.2v6.2h-6.2zM305.6 21.0h6.2v6.2h-6.2zM317.5 21.0h6.2v6.2h-6.2zM359.3 21.0h6.2v6.2h-6.2zM365.3 21.0h6.2v6.2h-6.2zM371.3 21.0h6.2v6.2h-6.2zM389.2 21.0h6.2v6.2h-6.2zM269.7 27.0h6.2v6.2h-6.2zM293.6 27.0h6.2v6.2h-6.2zM347.4 27.0h6.2v6.2h-6.2zM365.3 27.0h6.2v6.2h-6.2zM275.7 33.0h6.2v6.2h-6.2zM281.7 33.0h6.2v6.2h-6.2zM305.6 33.0h6.2v6.2h-6.2zM341.4 33.0h6.2v6.2h-6.2zM365.3 33.0h6.2v6.2h-6.2zM383.2 33.0h6.2v6.2h-6.2zM281.7 39.0h6.2v6.2h-6.2zM293.6 39.0h6.2v6.2h-6.2zM323.5 39.0h6.2v6.2h-6.2zM329.5 39.0h6.2v6.2h-6.2zM335.4 39.0h6.2v6.2h-6.2zM341.4 39.0h6.2v6.2h-6.2zM371.3 39.0h6.2v6.2h-6.2zM311.5 45.0h6.2v6.2h-6.2zM317.5 45.0h6.2v6.2h-6.2zM359.3 45.0h6.2v6.2h-6.2zM365.3 45.0h6.2v6.2h-6.2zM377.3 45.0h6.2v6.2h-6.2zM389.2 45.0h6.2v6.2h-6.2zM275.7 50.9h6.2v6.2h-6.2zM299.6 50.9h6.2v6.2h-6.2zM311.5 50.9h6.2v6.2h-6.2zM359.3 50.9h6.2v6.2h-6.2zM293.6 56.9h6.2v6.2h-6.2zM377.3 56.9h6.2v6.2h-6.2zM389.2 56.9h6.2v6.2h-6.2zM281.7 62.9h6.2v6.2h-6.2zM389.2 62.9h6.2v6.2h-6.2zM281.7 68.9h6.2v6.2h-6.2zM293.6 68.9h6.2v6.2h-6.2zM383.2 68.9h6.2v6.2h-6.2zM389.2 68.9h6.2v6.2h-6.2zM287.6 74.9h6.2v6.2h-6.2zM293.6 74.9h6.2v6.2h-6.2zM377.3 74.9h6.2v6.2h-6.2zM383.2 74.9h6.2v6.2h-6.2zM269.7 80.9h6.2v6.2h-6.2zM383.2 80.9h6.2v6.2h-6.2zM293.6 86.9h6.2v6.2h-6.2zM371.3 86.9h6.2v6.2h-6.2zM383.2 86.9h6.2v6.2h-6.2zM269.7 92.9h6.2v6.2h-6.2zM275.7 92.9h6.2v6.2h-6.2zM287.6 92.9h6.2v6.2h-6.2zM359.3 92.9h6.2v6.2h-6.2zM365.3 92.9h6.2v6.2h-6.2zM371.3 92.9h6.2v6.2h-6.2zM383.2 92.9h6.2v6.2h-6.2zM389.2 92.9h6.2v6.2h-6.2zM269.7 98.9h6.2v6.2h-6.2zM275.7 98.9h6.2v6.2h-6.2zM365.3 98.9h6.2v6.2h-6.2zM377.3 98.9h6.2v6.2h-6.2zM383.2 98.9h6.2v6.2h-6.2zM389.2 98.9h6.2v6.2h-6.2zM287.6 104.9h6.2v6.2h-6.2zM299.6 104.9h6.2v6.2h-6.2zM305.6 104.9h6.2v6.2h-6.2zM311.5 104.9h6.2v6.2h-6.2zM371.3 104.9h6.2v6.2h-6.2zM389.2 104.9h6.2v6.2h-6.2zM293.6 110.8h6.2v6.2h-6.2zM299.6 110.8h6.2v6.2h-6.2zM335.4 110.8h6.2v6.2h-6.2zM359.3 110.8h6.2v6.2h-6.2zM365.3 110.8h6.2v6.2h-6.2zM371.3 110.8h6.2v6.2h-6.2zM383.2 110.8h6.2v6.2h-6.2zM305.6 116.8h6.2v6.2h-6.2zM347.4 116.8h6.2v6.2h-6.2zM353.4 116.8h6.2v6.2h-6.2zM365.3 116.8h6.2v6.2h-6.2zM377.3 116.8h6.2v6.2h-6.2zM383.2 116.8h6.2v6.2h-6.2zM275.7 122.8h6.2v6.2h-6.2zM281.7 122.8h6.2v6.2h-6.2zM329.5 122.8h6.2v6.2h-6.2zM335.4 122.8h6.2v6.2h-6.2zM353.4 122.8h6.2v6.2h-6.2zM371.3 122.8h6.2v6.2h-6.2zM383.2 122.8h6.2v6.2h-6.2zM389.2 122.8h6.2v6.2h-6.2zM281.7 128.8h6.2v6.2h-6.2zM299.6 128.8h6.2v6.2h-6.2zM335.4 128.8h6.2v6.2h-6.2zM341.4 128.8h6.2v6.2h-6.2zM347.4 128.8h6.2v6.2h-6.2zM359.3 128.8h6.2v6.2h-6.2zM365.3 128.8h6.2v6.2h-6.2zM371.3 128.8h6.2v6.2h-6.2zM383.2 128.8h6.2v6.2h-6.2zM389.2 128.8h6.2v6.2h-6.2zM287.6 134.8h6.2v6.2h-6.2zM299.6 134.8h6.2v6.2h-6.2zM317.5 134.8h6.2v6.2h-6.2zM347.4 134.8h6.2v6.2h-6.2zM377.3 134.8h6.2v6.2h-6.2zM383.2 134.8h6.2v6.2h-6.2zM389.2 134.8h6.2v6.2h-6.2z"/>
<path fill="#d4e0e3" d="M287.6 15.0h6.2v6.2h-6.2zM371.3 15.0h6.2v6.2h-6.2zM281.7 21.0h6.2v6.2h-6.2zM335.4 21.0h6.2v6.2h-6.2zM323.5 27.0h6.2v6.2h-6.2zM329.5 27.0h6.2v6.2h-6.2zM341.4 27.0h6.2v6.2h-6.2zM389.2 27.0h6.2v6.2h-6.2zM299.6 45.0h6.2v6.2h-6.2zM281.7 50.9h6.2v6.2h-6.2zM383.2 50.9h6.2v6.2h-6.2zM269.7 56.9h6.2v6.2h-6.2zM383.2 56.9h6.2v6.2h-6.2zM365.3 62.9h6.2v6.2h-6.2zM365.3 68.9h6.2v6.2h-6.2zM281.7 86.9h6.2v6.2h-6.2zM377.3 86.9h6.2v6.2h-6.2zM293.6 92.9h6.2v6.2h-6.2zM299.6 98.9h6.2v6.2h-6.2zM383.2 104.9h6.2v6.2h-6.2zM341.4 110.8h6.2v6.2h-6.2zM293.6 116.8h6.2v6.2h-6.2zM299.6 116.8h6.2v6.2h-6.2zM389.2 116.8h6.2v6.2h-6.2zM269.7 134.8h6.2v6.2h-6.2zM365.3 134.8h6.2v6.2h-6.2z"/>
<path fill="#8ea4ac" d="M293.6 15.0h6.2v6.2h-6.2zM377.3 27.0h6.2v6.2h-6.2zM287.6 33.0h6.2v6.2h-6.2zM293.6 33.0h6.2v6.2h-6.2zM377.3 33.0h6.2v6.2h-6.2zM347.4 39.0h6.2v6.2h-6.2zM281.7 45.0h6.2v6.2h-6.2zM323.5 45.0h6.2v6.2h-6.2zM305.6 56.9h6.2v6.2h-6.2zM353.4 56.9h6.2v6.2h-6.2zM299.6 68.9h6.2v6.2h-6.2zM359.3 68.9h6.2v6.2h-6.2zM269.7 74.9h6.2v6.2h-6.2zM305.6 74.9h6.2v6.2h-6.2zM311.5 74.9h6.2v6.2h-6.2zM311.5 80.9h6.2v6.2h-6.2zM353.4 80.9h6.2v6.2h-6.2zM287.6 86.9h6.2v6.2h-6.2zM305.6 92.9h6.2v6.2h-6.2zM305.6 98.9h6.2v6.2h-6.2zM347.4 98.9h6.2v6.2h-6.2zM281.7 104.9h6.2v6.2h-6.2zM359.3 104.9h6.2v6.2h-6.2zM377.3 104.9h6.2v6.2h-6.2zM323.5 110.8h6.2v6.2h-6.2zM377.3 110.8h6.2v6.2h-6.2zM335.4 116.8h6.2v6.2h-6.2zM323.5 122.8h6.2v6.2h-6.2zM275.7 128.8h6.2v6.2h-6.2zM311.5 128.8h6.2v6.2h-6.2zM323.5 134.8h6.2v6.2h-6.2z"/>
<path fill="#b0c2c7" d="M311.5 15.0h6.2v6.2h-6.2zM323.5 15.0h6.2v6.2h-6.2zM341.4 15.0h6.2v6.2h-6.2zM359.3 15.0h6.2v6.2h-6.2zM365.3 15.0h6.2v6.2h-6.2zM383.2 15.0h6.2v6.2h-6.2zM269.7 21.0h6.2v6.2h-6.2zM287.6 21.0h6.2v6.2h-6.2zM293.6 21.0h6.2v6.2h-6.2zM299.6 21.0h6.2v6.2h-6.2zM311.5 21.0h6.2v6.2h-6.2zM323.5 21.0h6.2v6.2h-6.2zM329.5 21.0h6.2v6.2h-6.2zM347.4 21.0h6.2v6.2h-6.2zM353.4 21.0h6.2v6.2h-6.2zM383.2 21.0h6.2v6.2h-6.2zM275.7 27.0h6.2v6.2h-6.2zM281.7 27.0h6.2v6.2h-6.2zM287.6 27.0h6.2v6.2h-6.2zM299.6 27.0h6.2v6.2h-6.2zM305.6 27.0h6.2v6.2h-6.2zM311.5 27.0h6.2v6.2h-6.2zM335.4 27.0h6.2v6.2h-6.2zM353.4 27.0h6.2v6.2h-6.2zM359.3 27.0h6.2v6.2h-6.2zM383.2 27.0h6.2v6.2h-6.2zM323.5 33.0h6.2v6.2h-6.2zM329.5 33.0h6.2v6.2h-6.2zM335.4 33.0h6.2v6.2h-6.2zM389.2 33.0h6.2v6.2h-6.2zM269.7 39.0h6.2v6.2h-6.2zM275.7 39.0h6.2v6.2h-6.2zM287.6 39.0h6.2v6.2h-6.2zM299.6 39.0h6.2v6.2h-6.2zM305.6 39.0h6.2v6.2h-6.2zM311.5 39.0h6.2v6.2h-6.2zM317.5 39.0h6.2v6.2h-6.2zM353.4 39.0h6.2v6.2h-6.2zM359.3 39.0h6.2v6.2h-6.2zM365.3 39.0h6.2v6.2h-6.2zM377.3 39.0h6.2v6.2h-6.2zM383.2 39.0h6.2v6.2h-6.2zM269.7 45.0h6.2v6.2h-6.2zM275.7 45.0h6.2v6.2h-6.2zM287.6 45.0h6.2v6.2h-6.2zM293.6 45.0h6.2v6.2h-6.2zM341.4 45.0h6.2v6.2h-6.2zM347.4 45.0h6.2v6.2h-6.2zM371.3 45.0h6.2v6.2h-6.2zM383.2 45.0h6.2v6.2h-6.2zM269.7 50.9h6.2v6.2h-6.2zM293.6 50.9h6.2v6.2h-6.2zM365.3 50.9h6.2v6.2h-6.2zM371.3 50.9h6.2v6.2h-6.2zM275.7 56.9h6.2v6.2h-6.2zM281.7 56.9h6.2v6.2h-6.2zM287.6 56.9h6.2v6.2h-6.2zM359.3 56.9h6.2v6.2h-6.2zM365.3 56.9h6.2v6.2h-6.2zM269.7 62.9h6.2v6.2h-6.2zM275.7 62.9h6.2v6.2h-6.2zM293.6 62.9h6.2v6.2h-6.2zM299.6 62.9h6.2v6.2h-6.2zM377.3 62.9h6.2v6.2h-6.2zM383.2 62.9h6.2v6.2h-6.2zM269.7 68.9h6.2v6.2h-6.2zM275.7 68.9h6.2v6.2h-6.2zM377.3 68.9h6.2v6.2h-6.2zM275.7 74.9h6.2v6.2h-6.2zM299.6 74.9h6.2v6.2h-6.2zM365.3 74.9h6.2v6.2h-6.2zM371.3 74.9h6.2v6.2h-6.2zM389.2 74.9h6.2v6.2h-6.2zM275.7 80.9h6.2v6.2h-6.2zM287.6 80.9h6.2v6.2h-6.2zM293.6 80.9h6.2v6.2h-6.2zM299.6 80.9h6.2v6.2h-6.2zM305.6 80.9h6.2v6.2h-6.2zM359.3 80.9h6.2v6.2h-6.2zM365.3 80.9h6.2v6.2h-6.2zM269.7 86.9h6.2v6.2h-6.2zM275.7 86.9h6.2v6.2h-6.2zM299.6 86.9h6.2v6.2h-6.2zM305.6 86.9h6.2v6.2h-6.2zM353.4 86.9h6.2v6.2h-6.2zM359.3 86.9h6.2v6.2h-6.2zM365.3 86.9h6.2v6.2h-6.2zM389.2 86.9h6.2v6.2h-6.2zM281.7 92.9h6.2v6.2h-6.2zM299.6 92.9h6.2v6.2h-6.2zM353.4 92.9h6.2v6.2h-6.2zM377.3 92.9h6.2v6.2h-6.2zM281.7 98.9h6.2v6.2h-6.2zM287.6 98.9h6.2v6.2h-6.2zM293.6 98.9h6.2v6.2h-6.2zM311.5 98.9h6.2v6.2h-6.2zM353.4 98.9h6.2v6.2h-6.2zM359.3 98.9h6.2v6.2h-6.2zM371.3 98.9h6.2v6.2h-6.2zM275.7 104.9h6.2v6.2h-6.2zM293.6 104.9h6.2v6.2h-6.2zM317.5 104.9h6.2v6.2h-6.2zM323.5 104.9h6.2v6.2h-6.2zM335.4 104.9h6.2v6.2h-6.2zM341.4 104.9h6.2v6.2h-6.2zM347.4 104.9h6.2v6.2h-6.2zM353.4 104.9h6.2v6.2h-6.2zM365.3 104.9h6.2v6.2h-6.2zM269.7 110.8h6.2v6.2h-6.2zM275.7 110.8h6.2v6.2h-6.2zM281.7 110.8h6.2v6.2h-6.2zM305.6 110.8h6.2v6.2h-6.2zM311.5 110.8h6.2v6.2h-6.2zM317.5 110.8h6.2v6.2h-6.2zM347.4 110.8h6.2v6.2h-6.2zM269.7 116.8h6.2v6.2h-6.2zM281.7 116.8h6.2v6.2h-6.2zM287.6 116.8h6.2v6.2h-6.2zM317.5 116.8h6.2v6.2h-6.2zM323.5 116.8h6.2v6.2h-6.2zM341.4 116.8h6.2v6.2h-6.2zM359.3 116.8h6.2v6.2h-6.2zM371.3 116.8h6.2v6.2h-6.2zM287.6 122.8h6.2v6.2h-6.2zM299.6 122.8h6.2v6.2h-6.2zM311.5 122.8h6.2v6.2h-6.2zM317.5 122.8h6.2v6.2h-6.2zM341.4 122.8h6.2v6.2h-6.2zM347.4 122.8h6.2v6.2h-6.2zM359.3 122.8h6.2v6.2h-6.2zM365.3 122.8h6.2v6.2h-6.2zM377.3 122.8h6.2v6.2h-6.2zM287.6 128.8h6.2v6.2h-6.2zM305.6 128.8h6.2v6.2h-6.2zM323.5 128.8h6.2v6.2h-6.2zM329.5 128.8h6.2v6.2h-6.2zM353.4 128.8h6.2v6.2h-6.2zM377.3 128.8h6.2v6.2h-6.2zM281.7 134.8h6.2v6.2h-6.2zM305.6 134.8h6.2v6.2h-6.2zM311.5 134.8h6.2v6.2h-6.2zM329.5 134.8h6.2v6.2h-6.2zM335.4 134.8h6.2v6.2h-6.2zM341.4 134.8h6.2v6.2h-6.2zM353.4 134.8h6.2v6.2h-6.2zM359.3 134.8h6.2v6.2h-6.2zM371.3 134.8h6.2v6.2h-6.2z"/>
<path fill="#f8fbfb" d="M377.3 15.0h6.2v6.2h-6.2zM281.7 74.9h6.2v6.2h-6.2zM389.2 80.9h6.2v6.2h-6.2z"/>
<path fill="#e9f0f2" d="M269.7 33.0h6.2v6.2h-6.2zM359.3 33.0h6.2v6.2h-6.2zM389.2 50.9h6.2v6.2h-6.2zM329.5 116.8h6.2v6.2h-6.2z"/>
<path fill="#7a8e96" d="M329.5 45.0h6.2v6.2h-6.2zM311.5 56.9h6.2v6.2h-6.2zM311.5 62.9h6.2v6.2h-6.2zM353.4 74.9h6.2v6.2h-6.2z"/>
<path fill="#2a3c44" d="M323.5 50.9h6.2v6.2h-6.2zM335.4 50.9h6.2v6.2h-6.2zM347.4 56.9h6.2v6.2h-6.2zM317.5 74.9h6.2v6.2h-6.2zM323.5 74.9h6.2v6.2h-6.2zM329.5 74.9h6.2v6.2h-6.2zM335.4 86.9h6.2v6.2h-6.2zM329.5 92.9h6.2v6.2h-6.2zM323.5 98.9h6.2v6.2h-6.2z"/>
<path fill="#1a2a32" d="M329.5 50.9h6.2v6.2h-6.2z"/>
<path fill="#687c84" d="M341.4 50.9h6.2v6.2h-6.2zM353.4 62.9h6.2v6.2h-6.2zM311.5 68.9h6.2v6.2h-6.2zM317.5 68.9h6.2v6.2h-6.2zM347.4 80.9h6.2v6.2h-6.2zM311.5 86.9h6.2v6.2h-6.2zM347.4 86.9h6.2v6.2h-6.2zM335.4 92.9h6.2v6.2h-6.2zM275.7 116.8h6.2v6.2h-6.2z"/>
<path fill="#3a4c54" d="M317.5 56.9h6.2v6.2h-6.2zM329.5 68.9h6.2v6.2h-6.2zM317.5 92.9h6.2v6.2h-6.2z"/>
<path fill="#0a1218" d="M323.5 56.9h6.2v6.2h-6.2zM329.5 56.9h6.2v6.2h-6.2zM335.4 56.9h6.2v6.2h-6.2zM341.4 56.9h6.2v6.2h-6.2zM317.5 62.9h6.2v6.2h-6.2zM323.5 62.9h6.2v6.2h-6.2zM329.5 62.9h6.2v6.2h-6.2zM335.4 62.9h6.2v6.2h-6.2zM341.4 62.9h6.2v6.2h-6.2zM347.4 62.9h6.2v6.2h-6.2zM323.5 68.9h6.2v6.2h-6.2zM335.4 68.9h6.2v6.2h-6.2zM341.4 68.9h6.2v6.2h-6.2zM347.4 68.9h6.2v6.2h-6.2zM335.4 74.9h6.2v6.2h-6.2zM341.4 74.9h6.2v6.2h-6.2zM347.4 74.9h6.2v6.2h-6.2zM317.5 80.9h6.2v6.2h-6.2zM323.5 80.9h6.2v6.2h-6.2zM329.5 80.9h6.2v6.2h-6.2zM335.4 80.9h6.2v6.2h-6.2zM341.4 80.9h6.2v6.2h-6.2zM317.5 86.9h6.2v6.2h-6.2zM323.5 86.9h6.2v6.2h-6.2zM329.5 86.9h6.2v6.2h-6.2z"/>
<path fill="#5a6e76" d="M305.6 68.9h6.2v6.2h-6.2zM353.4 68.9h6.2v6.2h-6.2zM341.4 86.9h6.2v6.2h-6.2z"/>
<path fill="#4a5e66" d="M329.5 98.9h6.2v6.2h-6.2z"/>
</g>
<g shape-rendering="crispEdges">
<path fill="#8ea4ac" d="M404.4 15.0h6.2v6.2h-6.2zM410.4 21.0h6.2v6.2h-6.2zM416.4 33.0h6.2v6.2h-6.2zM470.1 33.0h6.2v6.2h-6.2zM517.9 33.0h6.2v6.2h-6.2zM523.9 33.0h6.2v6.2h-6.2zM488.1 39.0h6.2v6.2h-6.2zM416.4 45.0h6.2v6.2h-6.2zM428.3 45.0h6.2v6.2h-6.2zM458.2 45.0h6.2v6.2h-6.2zM464.2 45.0h6.2v6.2h-6.2zM470.1 45.0h6.2v6.2h-6.2zM494.0 45.0h6.2v6.2h-6.2zM476.1 50.9h6.2v6.2h-6.2zM440.3 56.9h6.2v6.2h-6.2zM488.1 56.9h6.2v6.2h-6.2zM494.0 56.9h6.2v6.2h-6.2zM446.2 62.9h6.2v6.2h-6.2zM512.0 62.9h6.2v6.2h-6.2zM410.4 68.9h6.2v6.2h-6.2zM434.3 68.9h6.2v6.2h-6.2zM440.3 68.9h6.2v6.2h-6.2zM410.4 74.9h6.2v6.2h-6.2zM440.3 74.9h6.2v6.2h-6.2zM446.2 74.9h6.2v6.2h-6.2zM446.2 80.9h6.2v6.2h-6.2zM488.1 80.9h6.2v6.2h-6.2zM422.3 86.9h6.2v6.2h-6.2zM446.2 86.9h6.2v6.2h-6.2zM482.1 86.9h6.2v6.2h-6.2zM440.3 92.9h6.2v6.2h-6.2zM464.2 92.9h6.2v6.2h-6.2zM452.2 98.9h6.2v6.2h-6.2zM476.1 98.9h6.2v6.2h-6.2zM506.0 98.9h6.2v6.2h-6.2zM404.4 104.9h6.2v6.2h-6.2zM428.3 122.8h6.2v6.2h-6.2zM446.2 128.8h6.2v6.2h-6.2zM452.2 128.8h6.2v6.2h-6.2zM458.2 134.8h6.2v6.2h-6.2z"/>
<path fill="#d4e0e3" d="M410.4 15.0h6.2v6.2h-6.2zM512.0 15.0h6.2v6.2h-6.2zM523.9 15.0h6.2v6.2h-6.2zM428.3 21.0h6.2v6.2h-6.2zM434.3 27.0h6.2v6.2h-6.2zM506.0 27.0h6.2v6.2h-6.2zM428.3 56.9h6.2v6.2h-6.2zM446.2 56.9h6.2v6.2h-6.2zM428.3 62.9h6.2v6.2h-6.2zM500.0 62.9h6.2v6.2h-6.2zM416.4 68.9h6.2v6.2h-6.2zM500.0 68.9h6.2v6.2h-6.2zM416.4 74.9h6.2v6.2h-6.2zM416.4 80.9h6.2v6.2h-6.2zM416.4 86.9h6.2v6.2h-6.2zM523.9 86.9h6.2v6.2h-6.2zM422.3 92.9h6.2v6.2h-6.2zM422.3 104.9h6.2v6.2h-6.2zM500.0 104.9h6.2v6.2h-6.2zM458.2 116.8h6.2v6.2h-6.2zM523.9 116.8h6.2v6.2h-6.2zM446.2 122.8h6.2v6.2h-6.2zM476.1 128.8h6.2v6.2h-6.2zM404.4 134.8h6.2v6.2h-6.2zM452.2 134.8h6.2v6.2h-6.2zM464.2 134.8h6.2v6.2h-6.2z"/>
<path fill="#b0c2c7" d="M416.4 15.0h6.2v6.2h-6.2zM428.3 15.0h6.2v6.2h-6.2zM458.2 15.0h6.2v6.2h-6.2zM488.1 15.0h6.2v6.2h-6.2zM494.0 15.0h6.2v6.2h-6.2zM404.4 21.0h6.2v6.2h-6.2zM470.1 21.0h6.2v6.2h-6.2zM476.1 21.0h6.2v6.2h-6.2zM482.1 21.0h6.2v6.2h-6.2zM494.0 21.0h6.2v6.2h-6.2zM506.0 21.0h6.2v6.2h-6.2zM512.0 21.0h6.2v6.2h-6.2zM517.9 21.0h6.2v6.2h-6.2zM410.4 27.0h6.2v6.2h-6.2zM416.4 27.0h6.2v6.2h-6.2zM440.3 27.0h6.2v6.2h-6.2zM446.2 27.0h6.2v6.2h-6.2zM458.2 27.0h6.2v6.2h-6.2zM470.1 27.0h6.2v6.2h-6.2zM482.1 27.0h6.2v6.2h-6.2zM488.1 27.0h6.2v6.2h-6.2zM494.0 27.0h6.2v6.2h-6.2zM500.0 27.0h6.2v6.2h-6.2zM422.3 33.0h6.2v6.2h-6.2zM434.3 33.0h6.2v6.2h-6.2zM446.2 33.0h6.2v6.2h-6.2zM458.2 33.0h6.2v6.2h-6.2zM476.1 33.0h6.2v6.2h-6.2zM500.0 33.0h6.2v6.2h-6.2zM506.0 33.0h6.2v6.2h-6.2zM446.2 39.0h6.2v6.2h-6.2zM464.2 39.0h6.2v6.2h-6.2zM470.1 39.0h6.2v6.2h-6.2zM482.1 39.0h6.2v6.2h-6.2zM506.0 39.0h6.2v6.2h-6.2zM512.0 39.0h6.2v6.2h-6.2zM517.9 39.0h6.2v6.2h-6.2zM523.9 39.0h6.2v6.2h-6.2zM404.4 45.0h6.2v6.2h-6.2zM410.4 45.0h6.2v6.2h-6.2zM422.3 45.0h6.2v6.2h-6.2zM482.1 45.0h6.2v6.2h-6.2zM422.3 50.9h6.2v6.2h-6.2zM428.3 50.9h6.2v6.2h-6.2zM446.2 50.9h6.2v6.2h-6.2zM482.1 50.9h6.2v6.2h-6.2zM506.0 50.9h6.2v6.2h-6.2zM517.9 50.9h6.2v6.2h-6.2zM416.4 56.9h6.2v6.2h-6.2zM500.0 56.9h6.2v6.2h-6.2zM517.9 56.9h6.2v6.2h-6.2zM404.4 62.9h6.2v6.2h-6.2zM410.4 62.9h6.2v6.2h-6.2zM434.3 62.9h6.2v6.2h-6.2zM517.9 62.9h6.2v6.2h-6.2zM523.9 62.9h6.2v6.2h-6.2zM404.4 68.9h6.2v6.2h-6.2zM494.0 68.9h6.2v6.2h-6.2zM517.9 68.9h6.2v6.2h-6.2zM523.9 68.9h6.2v6.2h-6.2zM404.4 74.9h6.2v6.2h-6.2zM434.3 74.9h6.2v6.2h-6.2zM494.0 74.9h6.2v6.2h-6.2zM512.0 74.9h6.2v6.2h-6.2zM517.9 74.9h6.2v6.2h-6.2zM523.9 74.9h6.2v6.2h-6.2zM434.3 80.9h6.2v6.2h-6.2zM494.0 80.9h6.2v6.2h-6.2zM434.3 86.9h6.2v6.2h-6.2zM488.1 86.9h6.2v6.2h-6.2zM517.9 86.9h6.2v6.2h-6.2zM434.3 92.9h6.2v6.2h-6.2zM446.2 92.9h6.2v6.2h-6.2zM482.1 92.9h6.2v6.2h-6.2zM517.9 92.9h6.2v6.2h-6.2zM410.4 98.9h6.2v6.2h-6.2zM416.4 98.9h6.2v6.2h-6.2zM422.3 98.9h6.2v6.2h-6.2zM428.3 98.9h6.2v6.2h-6.2zM440.3 98.9h6.2v6.2h-6.2zM446.2 98.9h6.2v6.2h-6.2zM482.1 98.9h6.2v6.2h-6.2zM488.1 98.9h6.2v6.2h-6.2zM512.0 98.9h6.2v6.2h-6.2zM434.3 104.9h6.2v6.2h-6.2zM470.1 104.9h6.2v6.2h-6.2zM506.0 104.9h6.2v6.2h-6.2zM422.3 110.8h6.2v6.2h-6.2zM440.3 110.8h6.2v6.2h-6.2zM458.2 110.8h6.2v6.2h-6.2zM470.1 110.8h6.2v6.2h-6.2zM476.1 110.8h6.2v6.2h-6.2zM482.1 110.8h6.2v6.2h-6.2zM523.9 110.8h6.2v6.2h-6.2zM416.4 116.8h6.2v6.2h-6.2zM446.2 116.8h6.2v6.2h-6.2zM470.1 116.8h6.2v6.2h-6.2zM488.1 116.8h6.2v6.2h-6.2zM494.0 116.8h6.2v6.2h-6.2zM410.4 122.8h6.2v6.2h-6.2zM470.1 122.8h6.2v6.2h-6.2zM488.1 122.8h6.2v6.2h-6.2zM512.0 122.8h6.2v6.2h-6.2zM523.9 122.8h6.2v6.2h-6.2zM410.4 128.8h6.2v6.2h-6.2zM434.3 128.8h6.2v6.2h-6.2zM458.2 128.8h6.2v6.2h-6.2zM470.1 128.8h6.2v6.2h-6.2zM488.1 128.8h6.2v6.2h-6.2zM494.0 128.8h6.2v6.2h-6.2zM512.0 128.8h6.2v6.2h-6.2zM410.4 134.8h6.2v6.2h-6.2zM434.3 134.8h6.2v6.2h-6.2zM470.1 134.8h6.2v6.2h-6.2zM476.1 134.8h6.2v6.2h-6.2zM488.1 134.8h6.2v6.2h-6.2zM500.0 134.8h6.2v6.2h-6.2zM523.9 134.8h6.2v6.2h-6.2z"/>
<path fill="#c2d0d4" d="M422.3 15.0h6.2v6.2h-6.2zM434.3 15.0h6.2v6.2h-6.2zM440.3 15.0h6.2v6.2h-6.2zM446.2 15.0h6.2v6.2h-6.2zM464.2 15.0h6.2v6.2h-6.2zM476.1 15.0h6.2v6.2h-6.2zM482.1 15.0h6.2v6.2h-6.2zM506.0 15.0h6.2v6.2h-6.2zM517.9 15.0h6.2v6.2h-6.2zM422.3 21.0h6.2v6.2h-6.2zM440.3 21.0h6.2v6.2h-6.2zM446.2 21.0h6.2v6.2h-6.2zM458.2 21.0h6.2v6.2h-6.2zM464.2 21.0h6.2v6.2h-6.2zM488.1 21.0h6.2v6.2h-6.2zM500.0 21.0h6.2v6.2h-6.2zM523.9 21.0h6.2v6.2h-6.2zM404.4 27.0h6.2v6.2h-6.2zM422.3 27.0h6.2v6.2h-6.2zM452.2 27.0h6.2v6.2h-6.2zM464.2 27.0h6.2v6.2h-6.2zM517.9 27.0h6.2v6.2h-6.2zM523.9 27.0h6.2v6.2h-6.2zM410.4 33.0h6.2v6.2h-6.2zM440.3 33.0h6.2v6.2h-6.2zM464.2 33.0h6.2v6.2h-6.2zM482.1 33.0h6.2v6.2h-6.2zM488.1 33.0h6.2v6.2h-6.2zM512.0 33.0h6.2v6.2h-6.2zM410.4 39.0h6.2v6.2h-6.2zM422.3 39.0h6.2v6.2h-6.2zM428.3 39.0h6.2v6.2h-6.2zM458.2 39.0h6.2v6.2h-6.2zM494.0 39.0h6.2v6.2h-6.2zM500.0 39.0h6.2v6.2h-6.2zM434.3 45.0h6.2v6.2h-6.2zM446.2 45.0h6.2v6.2h-6.2zM452.2 45.0h6.2v6.2h-6.2zM476.1 45.0h6.2v6.2h-6.2zM488.1 45.0h6.2v6.2h-6.2zM500.0 45.0h6.2v6.2h-6.2zM506.0 45.0h6.2v6.2h-6.2zM512.0 45.0h6.2v6.2h-6.2zM517.9 45.0h6.2v6.2h-6.2zM523.9 45.0h6.2v6.2h-6.2zM404.4 50.9h6.2v6.2h-6.2zM410.4 50.9h6.2v6.2h-6.2zM434.3 50.9h6.2v6.2h-6.2zM494.0 50.9h6.2v6.2h-6.2zM500.0 50.9h6.2v6.2h-6.2zM523.9 50.9h6.2v6.2h-6.2zM404.4 56.9h6.2v6.2h-6.2zM410.4 56.9h6.2v6.2h-6.2zM434.3 56.9h6.2v6.2h-6.2zM506.0 56.9h6.2v6.2h-6.2zM512.0 56.9h6.2v6.2h-6.2zM523.9 56.9h6.2v6.2h-6.2zM506.0 62.9h6.2v6.2h-6.2zM422.3 68.9h6.2v6.2h-6.2zM428.3 68.9h6.2v6.2h-6.2zM506.0 68.9h6.2v6.2h-6.2zM512.0 68.9h6.2v6.2h-6.2zM422.3 74.9h6.2v6.2h-6.2zM428.3 74.9h6.2v6.2h-6.2zM500.0 74.9h6.2v6.2h-6.2zM506.0 74.9h6.2v6.2h-6.2zM404.4 80.9h6.2v6.2h-6.2zM410.4 80.9h6.2v6.2h-6.2zM422.3 80.9h6.2v6.2h-6.2zM523.9 80.9h6.2v6.2h-6.2zM410.4 86.9h6.2v6.2h-6.2zM428.3 86.9h6.2v6.2h-6.2zM500.0 86.9h6.2v6.2h-6.2zM506.0 86.9h6.2v6.2h-6.2zM512.0 86.9h6.2v6.2h-6.2zM410.4 92.9h6.2v6.2h-6.2zM488.1 92.9h6.2v6.2h-6.2zM494.0 92.9h6.2v6.2h-6.2zM500.0 92.9h6.2v6.2h-6.2zM506.0 92.9h6.2v6.2h-6.2zM512.0 92.9h6.2v6.2h-6.2zM523.9 92.9h6.2v6.2h-6.2zM404.4 98.9h6.2v6.2h-6.2zM434.3 98.9h6.2v6.2h-6.2zM500.0 98.9h6.2v6.2h-6.2zM410.4 104.9h6.2v6.2h-6.2zM428.3 104.9h6.2v6.2h-6.2zM440.3 104.9h6.2v6.2h-6.2zM446.2 104.9h6.2v6.2h-6.2zM458.2 104.9h6.2v6.2h-6.2zM464.2 104.9h6.2v6.2h-6.2zM476.1 104.9h6.2v6.2h-6.2zM482.1 104.9h6.2v6.2h-6.2zM488.1 104.9h6.2v6.2h-6.2zM512.0 104.9h6.2v6.2h-6.2zM404.4 110.8h6.2v6.2h-6.2zM410.4 110.8h6.2v6.2h-6.2zM416.4 110.8h6.2v6.2h-6.2zM428.3 110.8h6.2v6.2h-6.2zM434.3 110.8h6.2v6.2h-6.2zM446.2 110.8h6.2v6.2h-6.2zM464.2 110.8h6.2v6.2h-6.2zM517.9 110.8h6.2v6.2h-6.2zM404.4 116.8h6.2v6.2h-6.2zM422.3 116.8h6.2v6.2h-6.2zM434.3 116.8h6.2v6.2h-6.2zM440.3 116.8h6.2v6.2h-6.2zM476.1 116.8h6.2v6.2h-6.2zM500.0 116.8h6.2v6.2h-6.2zM506.0 116.8h6.2v6.2h-6.2zM512.0 116.8h6.2v6.2h-6.2zM404.4 122.8h6.2v6.2h-6.2zM434.3 122.8h6.2v6.2h-6.2zM452.2 122.8h6.2v6.2h-6.2zM464.2 122.8h6.2v6.2h-6.2zM476.1 122.8h6.2v6.2h-6.2zM482.1 122.8h6.2v6.2h-6.2zM517.9 122.8h6.2v6.2h-6.2zM416.4 128.8h6.2v6.2h-6.2zM428.3 128.8h6.2v6.2h-6.2zM440.3 128.8h6.2v6.2h-6.2zM464.2 128.8h6.2v6.2h-6.2zM482.1 128.8h6.2v6.2h-6.2zM500.0 128.8h6.2v6.2h-6.2zM506.0 128.8h6.2v6.2h-6.2zM523.9 128.8h6.2v6.2h-6.2zM416.4 134.8h6.2v6.2h-6.2zM422.3 134.8h6.2v6.2h-6.2zM440.3 134.8h6.2v6.2h-6.2zM446.2 134.8h6.2v6.2h-6.2zM482.1 134.8h6.2v6.2h-6.2zM494.0 134.8h6.2v6.2h-6.2zM506.0 134.8h6.2v6.2h-6.2zM512.0 134.8h6.2v6.2h-6.2zM517.9 134.8h6.2v6.2h-6.2z"/>
<path fill="#9eb2b9" d="M452.2 15.0h6.2v6.2h-6.2zM470.1 15.0h6.2v6.2h-6.2zM500.0 15.0h6.2v6.2h-6.2zM434.3 21.0h6.2v6.2h-6.2zM452.2 21.0h6.2v6.2h-6.2zM428.3 27.0h6.2v6.2h-6.2zM428.3 33.0h6.2v6.2h-6.2zM452.2 33.0h6.2v6.2h-6.2zM404.4 39.0h6.2v6.2h-6.2zM434.3 39.0h6.2v6.2h-6.2zM440.3 39.0h6.2v6.2h-6.2zM452.2 39.0h6.2v6.2h-6.2zM476.1 39.0h6.2v6.2h-6.2zM440.3 45.0h6.2v6.2h-6.2zM440.3 50.9h6.2v6.2h-6.2zM452.2 50.9h6.2v6.2h-6.2zM512.0 50.9h6.2v6.2h-6.2zM422.3 56.9h6.2v6.2h-6.2zM482.1 56.9h6.2v6.2h-6.2zM416.4 62.9h6.2v6.2h-6.2zM422.3 62.9h6.2v6.2h-6.2zM440.3 62.9h6.2v6.2h-6.2zM494.0 62.9h6.2v6.2h-6.2zM428.3 80.9h6.2v6.2h-6.2zM440.3 80.9h6.2v6.2h-6.2zM482.1 80.9h6.2v6.2h-6.2zM500.0 80.9h6.2v6.2h-6.2zM506.0 80.9h6.2v6.2h-6.2zM512.0 80.9h6.2v6.2h-6.2zM517.9 80.9h6.2v6.2h-6.2zM404.4 86.9h6.2v6.2h-6.2zM440.3 86.9h6.2v6.2h-6.2zM494.0 86.9h6.2v6.2h-6.2zM404.4 92.9h6.2v6.2h-6.2zM416.4 92.9h6.2v6.2h-6.2zM428.3 92.9h6.2v6.2h-6.2zM470.1 92.9h6.2v6.2h-6.2zM476.1 92.9h6.2v6.2h-6.2zM470.1 98.9h6.2v6.2h-6.2zM494.0 98.9h6.2v6.2h-6.2zM517.9 98.9h6.2v6.2h-6.2zM523.9 98.9h6.2v6.2h-6.2zM452.2 104.9h6.2v6.2h-6.2zM494.0 104.9h6.2v6.2h-6.2zM452.2 110.8h6.2v6.2h-6.2zM488.1 110.8h6.2v6.2h-6.2zM494.0 110.8h6.2v6.2h-6.2zM500.0 110.8h6.2v6.2h-6.2zM506.0 110.8h6.2v6.2h-6.2zM512.0 110.8h6.2v6.2h-6.2zM452.2 116.8h6.2v6.2h-6.2zM482.1 116.8h6.2v6.2h-6.2zM517.9 116.8h6.2v6.2h-6.2zM416.4 122.8h6.2v6.2h-6.2zM422.3 122.8h6.2v6.2h-6.2zM458.2 122.8h6.2v6.2h-6.2zM500.0 122.8h6.2v6.2h-6.2zM506.0 122.8h6.2v6.2h-6.2zM404.4 128.8h6.2v6.2h-6.2zM422.3 128.8h6.2v6.2h-6.2zM517.9 128.8h6.2v6.2h-6.2zM428.3 134.8h6.2v6.2h-6.2z"/>
<path fill="#f8fbfb" d="M416.4 21.0h6.2v6.2h-6.2zM404.4 33.0h6.2v6.2h-6.2zM494.0 33.0h6.2v6.2h-6.2zM416.4 39.0h6.2v6.2h-6.2zM517.9 104.9h6.2v6.2h-6.2zM494.0 122.8h6.2v6.2h-6.2z"/>
<path fill="#e9f0f2" d="M476.1 27.0h6.2v6.2h-6.2zM416.4 50.9h6.2v6.2h-6.2zM523.9 104.9h6.2v6.2h-6.2zM428.3 116.8h6.2v6.2h-6.2zM464.2 116.8h6.2v6.2h-6.2z"/>
<path fill="#3a4c54" d="M512.0 27.0h6.2v6.2h-6.2zM464.2 50.9h6.2v6.2h-6.2zM452.2 56.9h6.2v6.2h-6.2zM488.1 62.9h6.2v6.2h-6.2zM464.2 74.9h6.2v6.2h-6.2zM452.2 80.9h6.2v6.2h-6.2z"/>
<path fill="#1a2a32" d="M458.2 50.9h6.2v6.2h-6.2zM464.2 56.9h6.2v6.2h-6.2zM458.2 74.9h6.2v6.2h-6.2zM464.2 80.9h6.2v6.2h-6.2zM458.2 86.9h6.2v6.2h-6.2zM458.2 92.9h6.2v6.2h-6.2z"/>
<path fill="#687c84" d="M470.1 50.9h6.2v6.2h-6.2zM482.1 62.9h6.2v6.2h-6.2zM446.2 68.9h6.2v6.2h-6.2zM464.2 86.9h6.2v6.2h-6.2zM476.1 86.9h6.2v6.2h-6.2zM464.2 98.9h6.2v6.2h-6.2z"/>
<path fill="#7a8e96" d="M488.1 50.9h6.2v6.2h-6.2zM470.1 86.9h6.2v6.2h-6.2zM416.4 104.9h6.2v6.2h-6.2zM410.4 116.8h6.2v6.2h-6.2zM440.3 122.8h6.2v6.2h-6.2z"/>
<path fill="#0a1218" d="M458.2 56.9h6.2v6.2h-6.2zM470.1 56.9h6.2v6.2h-6.2zM476.1 56.9h6.2v6.2h-6.2zM452.2 62.9h6.2v6.2h-6.2zM458.2 62.9h6.2v6.2h-6.2zM464.2 62.9h6.2v6.2h-6.2zM470.1 62.9h6.2v6.2h-6.2zM476.1 62.9h6.2v6.2h-6.2zM458.2 68.9h6.2v6.2h-6.2zM464.2 68.9h6.2v6.2h-6.2zM470.1 68.9h6.2v6.2h-6.2zM476.1 68.9h6.2v6.2h-6.2zM482.1 68.9h6.2v6.2h-6.2zM452.2 74.9h6.2v6.2h-6.2zM470.1 74.9h6.2v6.2h-6.2zM458.2 80.9h6.2v6.2h-6.2zM470.1 80.9h6.2v6.2h-6.2zM476.1 80.9h6.2v6.2h-6.2zM452.2 86.9h6.2v6.2h-6.2z"/>
<path fill="#5a6e76" d="M452.2 68.9h6.2v6.2h-6.2zM488.1 74.9h6.2v6.2h-6.2z"/>
<path fill="#2a3c44" d="M488.1 68.9h6.2v6.2h-6.2zM452.2 92.9h6.2v6.2h-6.2zM458.2 98.9h6.2v6.2h-6.2z"/>
<path fill="#101a22" d="M476.1 74.9h6.2v6.2h-6.2zM482.1 74.9h6.2v6.2h-6.2z"/>
</g>
<text x="42.7" y="9.5" font-size="10.3" font-weight="bold" fill="#1a1a1a" stroke="#111" stroke-width="0.3" textLength="42.2" lengthAdjust="spacingAndGlyphs"><tspan font-style="italic">E</tspan> = 0.2 V</text>
<text x="175.9" y="9.5" font-size="10.3" font-weight="bold" fill="#1a1a1a" stroke="#111" stroke-width="0.3" textLength="45.5" lengthAdjust="spacingAndGlyphs"><tspan font-style="italic">E</tspan> = -1.3 V</text>
<text x="308.2" y="9.5" font-size="10.3" font-weight="bold" fill="#1a1a1a" stroke="#111" stroke-width="0.3" textLength="45.6" lengthAdjust="spacingAndGlyphs"><tspan font-style="italic">E</tspan> = -1.5 V</text>
<text x="443.5" y="9.5" font-size="10.3" font-weight="bold" fill="#1a1a1a" stroke="#111" stroke-width="0.3" textLength="41.8" lengthAdjust="spacingAndGlyphs"><tspan font-style="italic">E</tspan> = 0.2 V</text>
<text x="0.8" y="10.2" font-size="11.8" font-weight="bold" fill="#1a1a1a" stroke="#111" stroke-width="0.3">(a)</text>
<ellipse cx="332.0" cy="74.3" rx="29.1" ry="31.4" fill="none" stroke="#e5302a" stroke-width="1.7" stroke-dasharray="3.4 2.3"/>
<ellipse cx="467.9" cy="74.3" rx="29.1" ry="31.4" fill="none" stroke="#e5302a" stroke-width="1.7" stroke-dasharray="3.4 2.3"/>
<text x="352.1" y="129.8" font-size="10" font-weight="bold" fill="#000" textLength="35.5" lengthAdjust="spacingAndGlyphs">400 nm</text>
<rect x="350" y="133" width="41.5" height="3" fill="#000"/>
<rect x="63.6" y="150" width="396" height="2.2" fill="#000"/>
<path d="M457.9 145.3 L468 151.1 L457.9 156.7 Z" fill="#000"/>
<text x="195.3" y="165.2" font-size="10.3" font-weight="bold" fill="#1a1a1a" stroke="#111" stroke-width="0.3" textLength="137.2" lengthAdjust="spacingAndGlyphs">Voltammetric scan direction</text>
<text x="0.6" y="192.3" font-size="11.6" font-weight="bold" fill="#1a1a1a" stroke="#111" stroke-width="0.3">(b)</text>
<g fill="none" stroke="#5e5e5e" stroke-width="1">
<rect x="35.0" y="183.0" width="198.3" height="146.2"/>
<path d="M35.0 222.6h2.5M233.3 222.6h-2.5"/>
<path d="M35.0 270.4h2.5M233.3 270.4h-2.5"/>
<path d="M35.0 318.3h2.5M233.3 318.3h-2.5"/>
<path d="M64.4 329.2v-2.5M64.4 183.0v2.5"/>
<path d="M122.4 329.2v-2.5M122.4 183.0v2.5"/>
<path d="M180.4 329.2v-2.5M180.4 183.0v2.5"/>
</g>
<text x="32" y="225.8" font-size="9" fill="#1a1a1a" text-anchor="end">0</text>
<text x="32" y="273.6" font-size="9" fill="#1a1a1a" text-anchor="end">-500</text>
<text x="32" y="321.1" font-size="9" fill="#1a1a1a" text-anchor="end">-1000</text>
<text x="70.0" y="341.7" font-size="9" fill="#1a1a1a" text-anchor="end">-1.5</text>
<text x="128.0" y="341.7" font-size="9" fill="#1a1a1a" text-anchor="end">-1.0</text>
<text x="186.0" y="341.7" font-size="9" fill="#1a1a1a" text-anchor="end">-0.5</text>
<text x="95.3" y="351.2" font-size="9" fill="#1a1a1a"><tspan font-style="italic">E</tspan> (V) vs. Ag/AgCl</text>
<text transform="translate(8.3,259.9) rotate(-90)" font-size="9" fill="#1a1a1a" text-anchor="middle"><tspan font-style="italic">Intensity</tspan> (au)</text>
<path d="M233.1 206.7 L232.9 205.4 L232.8 204.1 L232.6 205.8 L232.4 204.6 L232.1 206.6 L231.7 212.5 L231.3 215.6 L231.0 220.1 L230.6 216.8 L230.2 217.3 L229.9 213.9 L229.5 214.5 L229.0 212.4 L228.4 209.1 L227.9 207.4 L227.4 207.4 L227.1 206.4 L226.7 207.4 L226.3 203.6 L226.0 204.6 L225.8 200.4 L225.5 199.2 L225.2 197.6 L225.0 192.6 L224.7 195.6 L224.4 197.4 L224.2 202.6 L223.9 203.2 L223.6 202.3 L223.2 206.9 L222.8 205.4 L222.5 207.4 L222.2 208.7 L221.8 211.4 L221.4 215.0 L221.1 218.7 L220.8 218.0 L220.4 213.0 L220.0 212.7 L219.7 210.2 L219.3 210.8 L218.9 209.6 L218.6 210.4 L218.2 210.2 L217.8 209.4 L217.5 210.4 L217.2 212.1 L216.8 214.5 L216.5 213.5 L216.1 210.6 L215.8 208.4 L215.4 207.4 L215.1 208.9 L214.7 209.3 L214.3 209.7 L214.0 211.7 L213.7 212.3 L213.3 211.1 L212.9 208.4 L212.6 208.8 L212.4 205.6 L212.2 201.9 L212.1 199.9 L211.9 194.7 L211.6 195.4 L211.2 193.1 L210.8 195.8 L210.5 193.3 L210.2 192.3 L209.8 194.3 L209.4 196.5 L209.1 196.1 L208.8 193.7 L208.4 194.3 L208.0 191.4 L207.7 192.6 L207.5 194.9 L207.3 197.0 L207.1 197.7 L206.9 199.0 L206.6 199.9 L206.2 196.7 L205.8 197.7 L205.5 196.1 L205.2 198.6 L204.8 200.7 L204.4 202.3 L204.1 204.6 L203.8 209.3 L203.4 212.9 L203.0 214.0 L202.7 217.3 L202.3 221.2 L201.9 221.7 L201.6 227.7 L201.2 230.0 L200.9 231.6 L200.6 234.2 L200.4 234.4 L200.1 234.0 L199.9 232.4 L199.6 232.2 L199.4 232.8 L199.2 231.4 L198.8 227.2 L198.5 227.0 L198.2 223.6 L197.8 223.0 L197.2 219.2 L196.7 216.8 L196.2 217.8 L195.6 214.5 L195.1 211.8 L194.6 211.2 L194.0 210.8 L193.5 210.2 L193.2 209.4 L192.8 203.5 L192.4 202.6 L192.1 200.4 L191.9 202.0 L191.8 204.9 L191.6 206.0 L191.4 206.0 L191.0 207.5 L190.7 204.9 L190.3 205.4 L189.9 205.7 L189.5 206.4 L189.1 209.9 L188.6 211.5 L188.2 210.8 L187.8 210.1 L187.3 211.1 L186.9 212.2 L186.5 214.2 L186.2 208.6 L185.9 205.2 L185.6 201.2 L185.3 196.4 L185.0 200.9 L184.7 205.2 L184.3 212.5 L184.0 218.4 L183.6 215.5 L183.2 214.0 L182.7 213.4 L182.3 209.1 L181.9 209.5 L181.4 208.3 L181.0 208.3 L180.6 207.4 L180.0 206.1 L179.3 201.2 L178.7 202.8 L178.1 198.9 L177.4 203.5 L176.8 207.3 L176.2 210.4 L175.5 212.5 L175.1 212.9 L174.7 213.8 L174.2 213.3 L173.8 215.9 L173.4 214.4 L172.9 209.7 L172.5 207.6 L172.1 207.4 L171.7 209.7 L171.2 213.1 L170.8 217.5 L170.4 221.8 L170.0 217.9 L169.6 215.8 L169.1 214.6 L168.7 214.2 L168.3 211.6 L167.8 211.9 L167.4 209.6 L167.0 210.8 L166.6 209.9 L166.2 206.2 L165.7 201.6 L165.3 200.6 L164.9 201.2 L164.4 203.3 L164.0 205.1 L163.6 207.4 L163.2 204.9 L162.8 207.2 L162.3 207.0 L161.9 204.0 L161.5 202.6 L161.1 201.4 L160.7 198.4 L160.3 198.9 L159.9 196.1 L159.4 196.1 L159.0 194.7 L158.6 194.7 L158.2 199.3 L157.8 199.6 L157.3 202.1 L156.9 207.4 L156.5 209.8 L156.1 208.4 L155.6 207.1 L155.2 209.1 L154.8 210.6 L154.3 209.6 L153.9 213.0 L153.5 214.2 L153.1 214.6 L152.7 212.4 L152.2 210.0 L151.8 207.4 L151.4 210.2 L150.9 214.5 L150.5 217.4 L150.1 222.7 L149.7 222.2 L149.3 219.4 L148.9 218.8 L148.5 215.9 L148.1 216.4 L147.7 217.2 L147.2 221.1 L146.8 221.0 L146.2 221.4 L145.5 219.2 L144.8 217.2 L144.2 214.2 L143.6 213.5 L142.9 211.0 L142.3 206.6 L141.7 205.7 L141.3 205.4 L140.8 204.2 L140.4 202.4 L140.0 204.0 L139.7 199.0 L139.3 197.1 L138.9 194.1 L138.6 192.2 L138.1 197.9 L137.6 204.0 L137.1 206.6 L136.6 211.7 L136.2 217.2 L135.8 221.0 L135.3 224.5 L134.9 226.1 L134.3 221.9 L133.7 217.7 L133.0 214.1 L132.4 211.7 L132.0 209.1 L131.6 207.8 L131.1 208.4 L130.7 206.6 L130.0 210.3 L129.4 211.9 L128.8 212.2 L128.1 214.2 L127.7 215.7 L127.2 217.2 L126.8 214.9 L126.4 217.6 L126.1 214.3 L125.8 211.4 L125.6 206.8 L125.3 201.5 L125.0 205.8 L124.6 207.8 L124.2 209.6 L123.9 214.2 L123.5 214.8 L123.1 212.2 L122.6 213.6 L122.2 211.7 L121.8 212.7 L121.3 209.1 L120.9 208.0 L120.5 207.4 L120.1 208.5 L119.7 206.7 L119.2 203.4 L118.8 204.0 L118.4 206.6 L117.9 211.0 L117.5 218.5 L117.1 221.0 L116.7 224.7 L116.2 224.1 L115.8 229.4 L115.4 230.3 L115.0 230.5 L114.6 227.2 L114.1 223.9 L113.7 222.7 L113.2 219.5 L112.7 214.3 L112.2 210.4 L111.7 209.1 L111.3 209.5 L111.0 206.4 L110.7 204.1 L110.3 202.3 L109.9 204.6 L109.4 202.9 L109.0 205.2 L108.6 204.0 L108.0 207.1 L107.3 206.1 L106.7 208.0 L106.1 210.8 L105.5 211.6 L104.8 213.1 L104.2 216.3 L103.6 217.6 L103.1 213.1 L102.5 210.4 L102.0 205.8 L101.5 204.0 L101.2 204.1 L100.8 200.0 L100.5 198.8 L100.2 197.3 L99.8 196.2 L99.5 196.1 L99.2 192.5 L98.8 191.3 L98.5 195.5 L98.2 196.0 L97.9 198.4 L97.6 200.6 L97.2 203.9 L96.8 204.9 L96.3 209.9 L95.9 213.4 L95.3 211.4 L94.7 209.9 L94.0 212.8 L93.4 210.8 L93.0 206.0 L92.6 203.9 L92.1 201.7 L91.7 197.3 L91.3 198.8 L90.8 199.0 L90.4 201.1 L90.0 202.3 L89.8 201.2 L89.5 200.9 L89.2 196.6 L89.0 197.0 L88.6 198.3 L88.2 197.9 L87.9 199.0 L87.5 201.0 L87.1 201.4 L86.7 199.5 L86.2 199.0 L85.8 198.0 L85.5 201.1 L85.2 203.8 L84.8 203.8 L84.5 206.0 L84.2 208.7 L83.9 210.5 L83.6 212.8 L83.3 215.0 L82.8 214.8 L82.4 212.8 L82.0 212.1 L81.5 211.0 L81.1 209.4 L80.8 209.9 L80.4 207.4 L80.0 205.0 L79.7 205.2 L79.3 203.9 L79.0 199.4 L78.7 199.0 L78.4 201.0 L78.1 204.5 L77.8 205.7 L77.5 206.0 L77.1 205.4 L76.8 206.3 L76.4 208.7 L76.0 210.0 L75.6 209.4 L75.2 211.4 L74.9 211.9 L74.5 215.0 L74.2 217.2 L74.0 219.2 L73.8 221.2 L73.5 221.0 L73.2 217.7 L73.0 218.5 L72.8 216.5 L72.5 214.0 L72.2 214.6 L72.0 220.0 L71.7 222.6 L71.4 222.7 L71.2 220.5 L71.0 222.8 L70.7 219.5 L70.5 219.0 L70.2 217.2 L70.0 217.7 L69.8 215.2 L69.5 212.0 L69.2 209.3 L69.0 209.2 L68.8 208.3 L68.5 207.0 L68.2 206.8 L68.0 206.7 L67.8 207.7 L67.5 209.0 L67.2 209.0 L67.0 204.9 L66.8 206.2 L66.5 205.0 L66.2 202.9 L66.0 199.2 L65.8 198.7 L65.5 197.6 L65.2 200.0 L65.0 201.4 L64.8 201.2 L64.5 205.0 L64.2 209.1 L63.9 210.3 L63.6 213.1 L63.3 213.0 L63.0 212.4 L62.7 214.3 L62.4 214.4 L62.1 217.6 L61.8 220.9 L61.5 220.8 L61.3 222.3 L61.0 226.0 L60.7 229.2 L60.4 234.8 L60.1 237.9 L59.8 240.0 L59.4 242.0 L59.0 244.7 L58.6 251.1 L58.2 252.4 L58.0 255.4 L57.8 258.7 L57.6 258.8 L57.4 263.3 L57.0 262.5 L56.7 266.5 L56.4 266.5 L56.0 268.0 L55.8 269.1 L55.5 275.9 L55.2 277.6 L55.0 280.0 L54.8 279.3 L54.5 274.2 L54.2 275.6 L54.0 272.0 L53.8 273.3 L53.5 280.1 L53.2 281.5 L53.0 285.0 L52.9 280.0 L52.8 276.7 L52.7 274.1 L52.6 268.0 L52.8 269.0 L53.0 270.4 L53.3 274.1 L53.5 276.0 L53.7 277.1 L53.9 278.8 L54.1 281.3 L54.3 285.0 L54.5 279.5 L54.7 276.7 L54.9 273.7 L55.1 271.0 L55.3 268.6 L55.5 269.0 L55.7 265.4 L55.9 264.8 L56.2 264.4 L56.5 262.6 L56.8 263.0 L57.1 263.3 L57.4 262.0 L57.7 263.8 L57.9 263.5 L58.2 266.4 L58.6 269.8 L59.0 271.3 L59.4 272.0 L59.8 275.7 L60.2 278.3 L60.5 283.1 L60.9 282.1 L61.3 286.6 L61.7 289.6 L62.1 289.4 L62.5 291.2 L62.9 292.8 L63.3 294.3 L63.7 292.3 L64.0 292.8 L64.4 292.8 L64.8 291.3 L65.2 290.3 L65.6 285.1 L66.0 283.5 L66.2 286.5 L66.3 287.5 L66.5 288.7 L66.7 289.7 L67.1 288.5 L67.5 287.5 L67.9 285.4 L68.3 286.6 L68.7 283.0 L69.0 280.8 L69.4 281.8 L69.8 278.8 L70.2 276.9 L70.6 275.8 L71.0 274.6 L71.4 275.7 L71.8 276.6 L72.2 276.2 L72.6 274.7 L73.0 273.4 L73.5 274.3 L73.9 276.0 L74.3 278.0 L74.8 280.8 L75.2 278.5 L75.7 275.1 L76.1 274.3 L76.5 272.4 L76.9 270.5 L77.3 272.7 L77.8 271.9 L78.2 269.0 L78.5 266.0 L78.8 261.5 L79.1 261.5 L79.4 256.3 L79.7 258.6 L79.9 262.0 L80.2 263.6 L80.4 269.0 L80.9 269.8 L81.5 271.4 L82.0 272.8 L82.5 274.1 L82.9 274.9 L83.3 278.3 L83.8 278.2 L84.2 282.5 L84.6 282.3 L85.0 282.4 L85.4 284.6 L85.8 285.9 L86.2 284.9 L86.7 285.8 L87.1 288.1 L87.5 290.0 L87.9 287.8 L88.2 288.4 L88.6 287.1 L89.0 286.0 L89.2 288.7 L89.5 289.9 L89.8 291.8 L90.0 292.4 L90.4 291.9 L90.8 287.7 L91.3 285.3 L91.7 283.9 L91.9 284.3 L92.1 279.0 L92.3 279.8 L92.5 277.1 L92.9 279.4 L93.3 278.5 L93.8 283.7 L94.2 283.9 L94.6 287.1 L95.1 287.4 L95.5 289.4 L95.9 289.8 L96.3 290.5 L96.8 287.0 L97.2 288.0 L97.6 287.3 L98.0 284.8 L98.4 283.7 L98.9 281.0 L99.3 277.1 L99.7 280.7 L100.2 281.7 L100.6 285.2 L101.0 285.6 L101.4 284.7 L101.8 283.1 L102.3 279.3 L102.7 278.8 L103.1 278.9 L103.6 281.4 L104.0 284.6 L104.4 287.3 L104.8 283.4 L105.2 284.5 L105.7 281.2 L106.1 278.8 L106.3 281.9 L106.5 284.5 L106.7 287.2 L106.9 289.0 L107.3 288.5 L107.8 286.0 L108.2 289.0 L108.6 287.3 L109.0 289.2 L109.4 289.0 L109.9 290.0 L110.3 290.7 L110.7 288.0 L111.2 282.0 L111.6 281.5 L112.0 277.1 L112.3 272.2 L112.7 267.6 L113.1 264.7 L113.4 261.9 L113.8 263.3 L114.2 261.5 L114.7 264.2 L115.1 263.6 L115.4 267.8 L115.7 267.8 L116.0 269.4 L116.3 272.0 L116.7 272.8 L117.2 274.5 L117.6 275.7 L118.0 275.4 L118.4 276.3 L118.8 276.9 L119.3 274.8 L119.7 277.1 L120.1 278.9 L120.6 282.8 L121.0 288.4 L121.4 290.7 L121.8 292.0 L122.2 295.2 L122.7 294.9 L123.1 299.2 L123.5 299.4 L123.9 302.4 L124.3 306.3 L124.7 307.6 L125.1 304.6 L125.6 300.8 L126.0 295.3 L126.4 292.4 L126.8 290.3 L127.2 288.0 L127.7 285.9 L128.1 283.9 L128.5 279.2 L128.9 279.7 L129.4 273.7 L129.8 272.0 L130.2 273.7 L130.7 273.1 L131.1 268.6 L131.5 270.3 L131.9 268.4 L132.3 268.4 L132.8 267.3 L133.2 263.6 L133.6 267.6 L134.1 271.0 L134.5 275.0 L134.9 280.5 L135.3 285.9 L135.8 286.0 L136.2 291.1 L136.6 294.1 L137.2 287.0 L137.9 283.2 L138.5 279.5 L139.2 272.0 L139.6 272.9 L140.0 278.5 L140.4 279.7 L140.8 282.2 L141.2 282.6 L141.7 280.5 L142.1 277.2 L142.5 277.1 L143.1 278.0 L143.8 275.3 L144.4 272.5 L145.0 273.7 L145.4 273.2 L145.8 277.1 L146.3 278.6 L146.7 280.5 L147.1 282.2 L147.6 284.0 L148.0 287.5 L148.4 290.7 L148.8 288.2 L149.2 288.8 L149.7 283.4 L150.1 283.9 L150.5 281.6 L150.9 278.6 L151.4 272.0 L151.8 270.3 L152.0 269.7 L152.2 266.2 L152.4 264.5 L152.6 260.2 L153.0 261.4 L153.4 263.8 L153.9 266.0 L154.3 268.6 L154.7 272.5 L155.2 272.4 L155.6 273.1 L156.0 275.4 L156.4 277.2 L156.8 278.7 L157.3 279.8 L157.7 283.9 L158.1 284.7 L158.6 290.5 L159.0 290.6 L159.4 294.1 L159.8 298.5 L160.2 298.0 L160.7 300.6 L161.1 304.2 L161.4 308.9 L161.7 312.2 L162.0 317.7 L162.3 323.0 L162.6 323.0 L162.9 320.7 L163.2 318.4 L163.5 315.0 L163.8 312.0 L164.0 309.7 L164.2 306.3 L164.5 300.8 L164.9 296.4 L165.3 292.5 L165.8 284.9 L166.2 282.2 L166.6 281.1 L167.1 277.7 L167.5 276.9 L167.9 273.7 L168.3 271.8 L168.8 267.7 L169.2 264.1 L169.6 263.6 L170.0 266.7 L170.4 264.5 L170.9 267.2 L171.3 268.6 L171.6 266.2 L171.9 264.4 L172.2 264.6 L172.5 261.9 L172.8 266.1 L173.2 265.0 L173.5 268.9 L173.8 270.3 L174.2 272.8 L174.7 277.4 L175.1 280.0 L175.5 283.9 L175.9 284.6 L176.3 286.7 L176.8 289.0 L177.2 292.4 L177.6 295.5 L178.1 294.9 L178.5 295.0 L178.9 297.5 L179.3 296.7 L179.8 294.6 L180.2 289.6 L180.6 287.3 L181.0 286.6 L181.4 287.6 L181.9 288.0 L182.3 290.7 L182.7 288.3 L183.2 285.5 L183.6 284.5 L184.0 283.9 L184.4 278.6 L184.8 275.7 L185.3 272.9 L185.7 266.9 L186.0 265.0 L186.3 260.6 L186.7 257.7 L187.0 255.1 L187.4 256.9 L187.8 258.0 L188.3 259.5 L188.7 261.9 L189.0 259.5 L189.3 260.1 L189.6 262.7 L189.9 260.2 L190.3 261.3 L190.7 265.7 L191.0 268.9 L191.4 271.1 L191.8 272.0 L192.1 268.4 L192.5 267.9 L192.8 268.2 L193.2 269.6 L193.5 272.7 L193.8 275.4 L194.2 278.1 L194.5 281.5 L194.9 282.5 L195.2 284.0 L195.6 283.8 L196.0 282.7 L196.3 283.8 L196.7 287.9 L197.1 288.0 L197.4 287.3 L197.8 282.9 L198.2 281.0 L198.5 278.1 L198.7 273.1 L198.8 272.0 L199.0 271.5 L199.2 266.8 L199.5 270.7 L199.9 273.3 L200.2 276.3 L200.6 276.7 L200.9 273.8 L201.3 271.5 L201.7 269.9 L202.0 269.7 L202.3 272.6 L202.7 276.2 L203.1 280.1 L203.4 281.0 L203.6 282.7 L203.8 283.0 L203.9 284.3 L204.1 283.8 L204.4 279.7 L204.8 276.2 L205.2 270.1 L205.5 268.2 L205.8 267.0 L206.2 262.1 L206.6 262.7 L206.9 258.4 L207.3 259.0 L207.7 257.5 L208.0 256.8 L208.4 258.4 L208.8 259.1 L209.1 262.5 L209.5 264.5 L209.8 265.4 L210.2 264.8 L210.5 265.7 L210.8 268.7 L211.2 269.7 L211.7 271.8 L212.2 272.7 L212.8 273.7 L213.3 276.7 L213.7 279.2 L214.0 278.7 L214.3 282.1 L214.7 285.0 L215.0 288.1 L215.4 293.5 L215.8 295.4 L216.1 298.0 L216.4 298.4 L216.6 295.4 L216.9 293.1 L217.2 293.0 L217.4 288.9 L217.7 289.0 L217.9 284.9 L218.2 281.0 L218.6 277.0 L218.9 272.5 L219.3 271.4 L219.7 268.2 L220.0 268.3 L220.4 266.4 L220.8 265.0 L221.1 265.4 L221.4 267.2 L221.8 269.4 L222.2 267.4 L222.5 269.7 L222.8 265.9 L223.2 265.4 L223.6 264.0 L223.9 262.6 L224.2 260.6 L224.6 255.6 L225.0 255.4 L225.3 251.3 L225.5 251.7 L225.7 249.9 L225.8 247.9 L226.0 248.5 L226.3 253.0 L226.7 252.6 L227.1 257.3 L227.4 258.4 L227.8 258.3 L228.1 259.3 L228.5 262.7 L228.8 262.6 L229.2 264.5 L229.6 270.2 L229.9 271.1 L230.3 273.9 L230.7 274.3 L231.0 276.2 L231.3 278.9 L231.7 281.0 L232.0 282.1 L232.4 283.7 L232.8 280.5 L233.1 282.4" fill="none" stroke="#3288f0" stroke-width="1.5" stroke-linejoin="round"/>
<g stroke="#3288f0" stroke-width="1.3" fill="#3288f0">
<path d="M71.5 190.8 H95.3" fill="none"/><path d="M68.6 190.8 L72.5 188.7 L72.5 193 Z" stroke="none"/>
<path d="M68.4 311 H92.5" fill="none"/><path d="M95.2 311 L91.5 308.9 L91.5 313.1 Z" stroke="none"/>
<path d="M50.7 224.7 L49.5 247.5" fill="none"/><path d="M49.2 251 L47.6 247 L51.4 247.2 Z" stroke="none"/>
</g>
<text x="257.6" y="192.3" font-size="11.6" font-weight="bold" fill="#1a1a1a" stroke="#111" stroke-width="0.3">(c)</text>
<path d="M295.3 182.9H493.2M295.3 329.2H493.2" stroke="#5e5e5e" stroke-width="1" fill="none"/>
<path d="M295.3 182.9V329.2" stroke="#3288f0" stroke-width="1" fill="none"/>
<path d="M493.2 182.9V329.2" stroke="#e5302a" stroke-width="1" fill="none"/>
<path d="M295.3 193.1h2.2M295.3 206.6h2.2M295.3 220.1h2.2M295.3 233.7h2.2M295.3 247.2h2.2M295.3 260.7h2.2M295.3 274.2h2.2M295.3 287.7h2.2M295.3 301.3h2.2M295.3 314.8h2.2M295.3 328.3h2.2" stroke="#3288f0" stroke-width="1" fill="none"/>
<path d="M493.2 182.9h-2.2M493.2 196.7h-2.2M493.2 210.5h-2.2M493.2 224.3h-2.2M493.2 238.1h-2.2M493.2 251.9h-2.2M493.2 265.7h-2.2M493.2 279.5h-2.2M493.2 293.3h-2.2M493.2 307.1h-2.2M493.2 320.9h-2.2" stroke="#e5302a" stroke-width="1" fill="none"/>
<path d="M295.8 329.2v-2.5M295.8 182.9v2.5M360.0 329.2v-2.5M360.0 182.9v2.5M424.2 329.2v-2.5M424.2 182.9v2.5M488.4 329.2v-2.5M488.4 182.9v2.5" stroke="#5e5e5e" stroke-width="1" fill="none"/>
<text x="292.6" y="196.3" font-size="9" fill="#1a1a1a" text-anchor="end">400</text>
<text x="292.6" y="223.3" font-size="9" fill="#1a1a1a" text-anchor="end">200</text>
<text x="292.6" y="250.4" font-size="9" fill="#1a1a1a" text-anchor="end">0</text>
<text x="292.6" y="277.4" font-size="9" fill="#1a1a1a" text-anchor="end">-200</text>
<text x="292.6" y="304.5" font-size="9" fill="#1a1a1a" text-anchor="end">-400</text>
<text x="292.6" y="331.5" font-size="9" fill="#1a1a1a" text-anchor="end">-600</text>
<text x="497" y="186.1" font-size="9" fill="#1a1a1a">200</text>
<text x="497" y="213.7" font-size="9" fill="#1a1a1a">0</text>
<text x="497" y="241.3" font-size="9" fill="#1a1a1a">-200</text>
<text x="497" y="268.9" font-size="9" fill="#1a1a1a">-400</text>
<text x="497" y="296.5" font-size="9" fill="#1a1a1a">-600</text>
<text x="497" y="324.1" font-size="9" fill="#1a1a1a">-800</text>
<text x="296.9" y="341.1" font-size="9" fill="#1a1a1a" text-anchor="middle">0</text>
<text x="360.0" y="341.1" font-size="9" fill="#1a1a1a" text-anchor="middle">0.5</text>
<text x="424.2" y="341.1" font-size="9" fill="#1a1a1a" text-anchor="middle">1.0</text>
<text x="488.4" y="341.1" font-size="9" fill="#1a1a1a" text-anchor="middle">1.5</text>
<text x="396" y="351.8" font-size="9" fill="#1a1a1a" text-anchor="middle"><tspan font-style="italic">t</tspan> (s)</text>
<text transform="translate(269.2,258.9) rotate(-90)" font-size="9" fill="#1a1a1a" text-anchor="middle"><tspan font-style="italic">Intensity</tspan> (au)</text>
<text transform="translate(525.3,256.4) rotate(-90)" font-size="9" fill="#1a1a1a" text-anchor="middle">Charge (pC)</text>
<path d="M295.4 233.3 L295.7 237.5 L296.0 241.4 L296.4 249.4 L296.7 252.0 L297.0 255.1 L297.4 259.4 L297.7 264.2 L298.0 270.8 L298.4 268.3 L298.7 268.5 L299.0 266.4 L299.4 262.7 L299.7 254.3 L300.0 246.1 L300.4 236.5 L300.7 225.2 L301.1 215.7 L301.4 206.4 L301.8 201.0 L302.1 190.4 L302.4 193.3 L302.6 191.9 L302.9 196.4 L303.2 197.5 L303.6 199.8 L303.9 202.6 L304.2 205.2 L304.6 208.8 L305.0 208.4 L305.3 208.8 L305.6 211.1 L306.0 213.1 L306.4 215.3 L306.7 220.8 L307.0 219.9 L307.4 224.4 L307.6 230.3 L307.8 230.9 L308.0 235.5 L308.2 240.0 L308.4 239.4 L308.7 237.4 L308.9 233.7 L309.2 232.0 L309.4 224.6 L309.7 221.0 L309.9 215.1 L310.2 210.2 L310.4 209.2 L310.5 203.2 L310.7 201.2 L310.9 199.0 L311.1 205.0 L311.3 205.4 L311.5 211.3 L311.7 215.9 L312.1 215.8 L312.4 214.2 L312.8 209.6 L313.1 210.2 L313.5 210.3 L313.8 212.5 L314.1 218.4 L314.5 218.7 L314.9 214.1 L315.2 212.7 L315.5 209.9 L315.9 204.6 L316.2 206.7 L316.6 209.2 L316.9 215.1 L317.3 215.9 L317.6 213.2 L318.0 208.5 L318.4 207.3 L318.7 203.2 L319.0 199.6 L319.2 196.6 L319.5 192.5 L319.8 191.9 L320.1 195.1 L320.3 198.0 L320.6 198.9 L320.8 200.4 L321.1 205.9 L321.5 205.4 L321.9 209.8 L322.2 214.5 L322.6 216.5 L322.9 220.8 L323.3 222.9 L323.7 223.0 L324.1 223.2 L324.4 223.3 L324.8 224.8 L325.1 225.8 L325.5 226.8 L325.8 229.8 L326.1 227.6 L326.5 230.0 L326.9 222.9 L327.2 214.1 L327.5 206.0 L327.9 196.1 L328.2 196.3 L328.4 194.5 L328.7 192.2 L329.0 191.9 L329.2 192.5 L329.5 194.1 L329.8 197.3 L330.0 197.5 L330.4 194.6 L330.7 194.1 L331.0 195.5 L331.4 193.3 L331.8 194.3 L332.1 195.6 L332.4 197.6 L332.8 201.8 L333.0 207.8 L333.1 212.6 L333.3 221.3 L333.5 225.0 L334.0 232.8 L334.6 239.3 L335.1 242.2 L335.6 249.3 L336.0 240.9 L336.4 234.4 L336.7 229.6 L337.1 223.0 L337.5 221.8 L337.8 218.5 L338.1 215.5 L338.5 214.5 L338.9 211.3 L339.2 209.4 L339.5 206.8 L339.9 203.2 L340.2 200.8 L340.6 197.7 L340.9 193.3 L341.3 189.1 L341.7 191.0 L342.1 197.6 L342.4 198.8 L342.8 203.2 L343.1 207.4 L343.5 210.4 L343.9 215.9 L344.2 218.7 L344.6 212.1 L344.9 207.0 L345.2 201.7 L345.6 197.5 L346.0 202.7 L346.4 212.6 L346.7 218.0 L347.1 224.4 L347.5 221.5 L347.8 219.7 L348.1 220.2 L348.5 215.9 L348.9 213.1 L349.2 209.1 L349.5 208.8 L349.9 204.6 L350.2 208.8 L350.6 213.8 L350.9 213.4 L351.3 218.7 L351.6 216.1 L352.0 215.2 L352.4 212.8 L352.7 208.8 L353.1 213.8 L353.4 213.1 L353.8 217.4 L354.1 221.5 L354.5 217.7 L354.8 215.9 L355.1 217.3 L355.5 213.1 L355.9 214.2 L356.2 216.4 L356.5 214.6 L356.9 215.9 L357.3 214.3 L357.6 209.3 L358.0 205.3 L358.4 203.2 L358.8 205.5 L359.1 207.3 L359.4 204.6 L359.8 207.4 L360.1 206.1 L360.5 204.4 L360.9 200.9 L361.2 200.4 L361.6 198.0 L361.9 195.3 L362.2 193.8 L362.6 193.3 L363.0 196.1 L363.3 201.5 L363.6 205.6 L364.0 208.8 L364.4 211.4 L364.7 214.5 L365.0 219.7 L365.4 224.4 L365.8 223.1 L366.1 218.8 L366.4 217.2 L366.8 215.9 L367.1 212.8 L367.5 213.6 L367.9 210.8 L368.2 208.8 L368.6 209.0 L368.9 211.3 L369.3 214.7 L369.7 217.3 L370.1 216.5 L370.4 215.8 L370.8 212.4 L371.1 213.1 L371.5 215.5 L371.8 221.7 L372.1 224.3 L372.5 228.6 L372.9 224.8 L373.2 222.1 L373.5 222.1 L373.9 217.3 L374.2 215.4 L374.6 215.5 L374.9 213.5 L375.3 213.1 L375.6 210.3 L375.9 209.8 L376.1 207.9 L376.4 203.2 L376.8 205.8 L377.1 208.2 L377.5 213.7 L377.9 215.9 L378.3 216.4 L378.7 217.3 L379.1 223.0 L379.5 223.0 L379.9 218.8 L380.2 216.6 L380.6 210.9 L381.0 207.4 L381.4 211.6 L381.7 212.2 L382.0 213.3 L382.4 217.3 L382.8 215.9 L383.1 218.9 L383.4 220.0 L383.8 220.1 L384.1 217.7 L384.4 209.8 L384.6 208.0 L384.9 203.2 L385.3 206.5 L385.6 211.0 L386.0 213.3 L386.4 218.7 L386.8 215.3 L387.1 213.8 L387.4 213.1 L387.8 208.8 L388.1 205.0 L388.5 204.6 L388.9 203.8 L389.2 200.4 L389.6 207.4 L389.9 208.9 L390.2 213.5 L390.6 220.1 L391.0 225.5 L391.4 229.1 L391.7 230.4 L392.1 234.0 L392.5 227.2 L392.8 226.1 L393.1 218.9 L393.5 214.5 L393.9 217.7 L394.2 217.8 L394.5 220.1 L394.9 220.1 L395.2 216.1 L395.6 216.4 L395.9 211.5 L396.3 210.2 L396.6 210.9 L397.0 213.9 L397.4 214.9 L397.7 214.5 L398.1 212.0 L398.4 211.1 L398.8 210.8 L399.1 210.2 L399.5 209.6 L399.8 208.3 L400.1 206.4 L400.5 207.4 L400.9 203.8 L401.2 203.4 L401.5 201.7 L401.9 197.5 L402.3 201.1 L402.6 209.1 L403.0 215.6 L403.4 220.1 L403.8 220.3 L404.1 226.0 L404.4 225.1 L404.8 229.0 L405.1 221.2 L405.5 212.8 L405.9 204.9 L406.2 196.1 L406.6 196.7 L406.9 198.6 L407.2 200.7 L407.6 201.8 L408.0 201.1 L408.3 201.8 L408.6 200.5 L409.0 200.4 L409.4 201.2 L409.7 200.4 L410.0 204.1 L410.4 204.6 L410.8 205.6 L411.1 205.5 L411.4 208.9 L411.8 208.8 L412.1 212.2 L412.5 212.9 L412.9 213.8 L413.2 217.3 L413.6 219.0 L413.9 219.1 L414.3 221.0 L414.7 224.4 L415.1 222.0 L415.4 218.4 L415.8 217.8 L416.1 215.9 L416.5 217.3 L416.8 216.7 L417.1 220.7 L417.5 221.5 L417.9 219.0 L418.2 221.1 L418.5 220.6 L418.9 218.7 L419.2 215.6 L419.6 210.4 L419.9 209.2 L420.3 206.0 L420.6 208.3 L421.0 213.6 L421.4 212.9 L421.7 217.3 L422.1 217.1 L422.4 215.9 L422.8 213.0 L423.1 210.2 L423.4 207.4 L423.7 200.4 L424.0 199.6 L424.3 193.3 L424.6 197.1 L424.8 203.1 L425.1 206.8 L425.3 208.8 L425.6 210.5 L426.0 216.4 L426.4 220.2 L426.7 221.5 L426.9 222.2 L427.1 226.1 L427.4 230.5 L427.6 232.0 L427.8 234.7 L428.1 242.2 L428.3 243.7 L428.5 248.9 L428.7 254.5 L428.9 255.8 L429.1 261.6 L429.3 265.8 L429.5 272.5 L429.8 274.3 L430.0 279.4 L430.2 285.3 L430.4 288.1 L430.6 290.1 L430.8 291.6 L431.0 296.4 L431.4 290.6 L431.9 286.0 L432.3 285.0 L432.7 278.6 L433.1 274.5 L433.5 270.6 L434.0 262.5 L434.4 259.1 L434.8 259.1 L435.2 254.9 L435.7 255.4 L436.1 254.0 L436.5 257.1 L437.0 258.5 L437.4 263.3 L437.8 264.2 L438.0 272.7 L438.2 281.1 L438.4 290.6 L438.6 297.2 L439.0 297.6 L439.5 303.6 L439.9 304.1 L440.3 305.7 L440.7 300.1 L441.1 296.8 L441.6 289.4 L442.0 285.3 L442.4 285.4 L442.9 281.4 L443.3 278.4 L443.7 276.9 L444.1 276.1 L444.5 272.7 L445.0 269.6 L445.4 269.0 L445.8 272.9 L446.2 272.7 L446.7 278.9 L447.1 280.3 L447.6 275.4 L448.1 273.3 L448.5 271.0 L449.0 265.0 L449.4 261.4 L449.8 257.7 L450.1 252.2 L450.5 249.0 L450.8 250.1 L451.0 253.4 L451.2 257.2 L451.5 262.0 L451.7 266.7 L451.9 270.0 L452.0 274.5 L452.2 278.6 L452.8 282.9 L453.4 282.0 L454.1 285.0 L454.7 288.7 L455.1 296.3 L455.5 300.4 L455.9 307.2 L456.3 316.3 L456.6 311.2 L456.9 305.7 L457.2 302.3 L457.5 298.5 L457.8 290.9 L458.1 286.2 L458.5 279.8 L458.8 273.1 L459.2 274.3 L459.7 278.7 L460.2 280.6 L460.6 283.3 L461.1 283.6 L461.6 289.0 L462.1 287.9 L462.6 290.9 L462.9 286.8 L463.2 284.0 L463.6 283.9 L463.9 280.7 L464.3 285.5 L464.8 288.3 L465.2 289.8 L465.7 293.4 L466.1 290.5 L466.4 287.5 L466.8 288.3 L467.2 285.8 L467.6 289.2 L468.1 291.5 L468.6 296.0 L469.0 298.5 L469.3 299.5 L469.6 303.0 L470.0 303.4 L470.3 303.6 L470.6 294.2 L470.9 288.8 L471.2 276.8 L471.5 270.5 L471.8 268.7 L472.1 266.3 L472.5 263.6 L472.8 262.9 L473.1 261.6 L473.5 265.4 L473.8 262.6 L474.1 265.4 L474.4 268.8 L474.8 273.7 L475.1 273.4 L475.4 278.2 L476.0 283.2 L476.6 291.4 L477.3 297.3 L477.9 303.6 L478.3 309.6 L478.8 315.8 L479.2 318.4 L479.7 325.2 L480.2 317.1 L480.7 309.7 L481.2 301.3 L481.7 296.0 L482.1 292.0 L482.6 285.8 L483.1 279.8 L483.5 273.1 L484.0 269.0 L484.5 270.8 L485.0 268.4 L485.5 265.4 L485.8 269.7 L486.1 275.4 L486.5 278.6 L486.8 283.3 L487.1 285.9 L487.5 289.2 L487.8 293.5 L488.1 298.5 L488.4 291.4 L488.8 287.6 L489.1 284.4 L489.4 278.2 L489.8 280.6 L490.2 282.9 L490.7 283.9 L491.1 284.5 L491.6 282.8 L492.1 283.5 L492.7 282.3 L493.2 282.0" fill="none" stroke="#3288f0" stroke-width="1.5" stroke-linejoin="round"/>
<path d="M295.5 210.5 L419.6 210.5 L421.7 211.5 L424.5 214.0 L427.6 218.4 L431.0 226.9 L432.7 236.2 L434.9 244.7 L436.4 253.1 L438.3 261.6 L440.0 270.1 L442.0 279.4 L445.1 287.0 L448.8 295.5 L452.0 299.0 L455.6 300.6 L458.0 301.0" fill="none" stroke="#e5302a" stroke-width="2" stroke-dasharray="4.2 4.72"/>
<rect x="313.5" y="280.9" width="68.1" height="38.5" fill="#fff" stroke="#8a8a8a" stroke-width="1"/>
<path d="M318.2 289.4H340.6" stroke="#3288f0" stroke-width="1.2"/>
<path d="M318.2 306.4H340.6" stroke="#e5302a" stroke-width="2" stroke-dasharray="4 5"/>
<text x="344" y="294.3" font-size="9" fill="#1a1a1a">Intensity</text>
<text x="344" y="311.3" font-size="9" fill="#1a1a1a">Charge</text>
</svg></body></html>
